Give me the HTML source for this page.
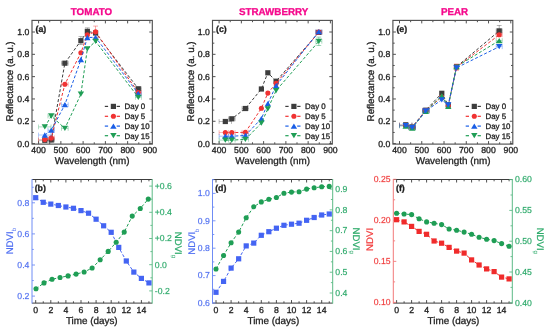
<!DOCTYPE html>
<html><head><meta charset="utf-8"><style>
html,body{margin:0;padding:0;background:#fff;width:550px;height:329px;overflow:hidden;}
svg{display:block;will-change:transform;text-rendering:geometricPrecision;filter:blur(0.3px);}
text{font-family:"Liberation Sans", sans-serif;}
</style></head><body>
<svg width="550" height="329" viewBox="0 0 550 329" font-family='"Liberation Sans", sans-serif'>
<rect width="550" height="329" fill="#ffffff"/>
<line x1="38.6" y1="144.1" x2="38.6" y2="141.1" stroke="#3c3c3c" stroke-width="0.9" />
<line x1="38.6" y1="20.4" x2="38.6" y2="23.4" stroke="#3c3c3c" stroke-width="0.9" />
<text x="38.6" y="153.3" font-size="8.7" fill="#1e1e1e" stroke="#1e1e1e" stroke-width="0.3" text-anchor="middle" font-weight="normal" >400</text>
<line x1="49.73" y1="144.1" x2="49.73" y2="142.3" stroke="#3c3c3c" stroke-width="0.9" />
<line x1="49.73" y1="20.4" x2="49.73" y2="22.2" stroke="#3c3c3c" stroke-width="0.9" />
<line x1="60.86" y1="144.1" x2="60.86" y2="141.1" stroke="#3c3c3c" stroke-width="0.9" />
<line x1="60.86" y1="20.4" x2="60.86" y2="23.4" stroke="#3c3c3c" stroke-width="0.9" />
<text x="60.86" y="153.3" font-size="8.7" fill="#1e1e1e" stroke="#1e1e1e" stroke-width="0.3" text-anchor="middle" font-weight="normal" >500</text>
<line x1="71.99" y1="144.1" x2="71.99" y2="142.3" stroke="#3c3c3c" stroke-width="0.9" />
<line x1="71.99" y1="20.4" x2="71.99" y2="22.2" stroke="#3c3c3c" stroke-width="0.9" />
<line x1="83.12" y1="144.1" x2="83.12" y2="141.1" stroke="#3c3c3c" stroke-width="0.9" />
<line x1="83.12" y1="20.4" x2="83.12" y2="23.4" stroke="#3c3c3c" stroke-width="0.9" />
<text x="83.12" y="153.3" font-size="8.7" fill="#1e1e1e" stroke="#1e1e1e" stroke-width="0.3" text-anchor="middle" font-weight="normal" >600</text>
<line x1="94.25" y1="144.1" x2="94.25" y2="142.3" stroke="#3c3c3c" stroke-width="0.9" />
<line x1="94.25" y1="20.4" x2="94.25" y2="22.2" stroke="#3c3c3c" stroke-width="0.9" />
<line x1="105.38" y1="144.1" x2="105.38" y2="141.1" stroke="#3c3c3c" stroke-width="0.9" />
<line x1="105.38" y1="20.4" x2="105.38" y2="23.4" stroke="#3c3c3c" stroke-width="0.9" />
<text x="105.38" y="153.3" font-size="8.7" fill="#1e1e1e" stroke="#1e1e1e" stroke-width="0.3" text-anchor="middle" font-weight="normal" >700</text>
<line x1="116.51" y1="144.1" x2="116.51" y2="142.3" stroke="#3c3c3c" stroke-width="0.9" />
<line x1="116.51" y1="20.4" x2="116.51" y2="22.2" stroke="#3c3c3c" stroke-width="0.9" />
<line x1="127.64" y1="144.1" x2="127.64" y2="141.1" stroke="#3c3c3c" stroke-width="0.9" />
<line x1="127.64" y1="20.4" x2="127.64" y2="23.4" stroke="#3c3c3c" stroke-width="0.9" />
<text x="127.64" y="153.3" font-size="8.7" fill="#1e1e1e" stroke="#1e1e1e" stroke-width="0.3" text-anchor="middle" font-weight="normal" >800</text>
<line x1="138.77" y1="144.1" x2="138.77" y2="142.3" stroke="#3c3c3c" stroke-width="0.9" />
<line x1="138.77" y1="20.4" x2="138.77" y2="22.2" stroke="#3c3c3c" stroke-width="0.9" />
<line x1="149.9" y1="144.1" x2="149.9" y2="141.1" stroke="#3c3c3c" stroke-width="0.9" />
<line x1="149.9" y1="20.4" x2="149.9" y2="23.4" stroke="#3c3c3c" stroke-width="0.9" />
<text x="149.9" y="153.3" font-size="8.7" fill="#1e1e1e" stroke="#1e1e1e" stroke-width="0.3" text-anchor="middle" font-weight="normal" >900</text>
<line x1="32" y1="143.6" x2="35" y2="143.6" stroke="#3c3c3c" stroke-width="0.9" />
<line x1="152.3" y1="143.6" x2="149.3" y2="143.6" stroke="#3c3c3c" stroke-width="0.9" />
<text x="29.4" y="146.7" font-size="8.7" fill="#1e1e1e" stroke="#1e1e1e" stroke-width="0.3" text-anchor="end" font-weight="normal" >0.0</text>
<line x1="32" y1="132.44" x2="33.8" y2="132.44" stroke="#3c3c3c" stroke-width="0.9" />
<line x1="152.3" y1="132.44" x2="150.5" y2="132.44" stroke="#3c3c3c" stroke-width="0.9" />
<line x1="32" y1="121.28" x2="35" y2="121.28" stroke="#3c3c3c" stroke-width="0.9" />
<line x1="152.3" y1="121.28" x2="149.3" y2="121.28" stroke="#3c3c3c" stroke-width="0.9" />
<text x="29.4" y="124.38" font-size="8.7" fill="#1e1e1e" stroke="#1e1e1e" stroke-width="0.3" text-anchor="end" font-weight="normal" >0.2</text>
<line x1="32" y1="110.12" x2="33.8" y2="110.12" stroke="#3c3c3c" stroke-width="0.9" />
<line x1="152.3" y1="110.12" x2="150.5" y2="110.12" stroke="#3c3c3c" stroke-width="0.9" />
<line x1="32" y1="98.96" x2="35" y2="98.96" stroke="#3c3c3c" stroke-width="0.9" />
<line x1="152.3" y1="98.96" x2="149.3" y2="98.96" stroke="#3c3c3c" stroke-width="0.9" />
<text x="29.4" y="102.06" font-size="8.7" fill="#1e1e1e" stroke="#1e1e1e" stroke-width="0.3" text-anchor="end" font-weight="normal" >0.4</text>
<line x1="32" y1="87.8" x2="33.8" y2="87.8" stroke="#3c3c3c" stroke-width="0.9" />
<line x1="152.3" y1="87.8" x2="150.5" y2="87.8" stroke="#3c3c3c" stroke-width="0.9" />
<line x1="32" y1="76.64" x2="35" y2="76.64" stroke="#3c3c3c" stroke-width="0.9" />
<line x1="152.3" y1="76.64" x2="149.3" y2="76.64" stroke="#3c3c3c" stroke-width="0.9" />
<text x="29.4" y="79.74" font-size="8.7" fill="#1e1e1e" stroke="#1e1e1e" stroke-width="0.3" text-anchor="end" font-weight="normal" >0.6</text>
<line x1="32" y1="65.48" x2="33.8" y2="65.48" stroke="#3c3c3c" stroke-width="0.9" />
<line x1="152.3" y1="65.48" x2="150.5" y2="65.48" stroke="#3c3c3c" stroke-width="0.9" />
<line x1="32" y1="54.32" x2="35" y2="54.32" stroke="#3c3c3c" stroke-width="0.9" />
<line x1="152.3" y1="54.32" x2="149.3" y2="54.32" stroke="#3c3c3c" stroke-width="0.9" />
<text x="29.4" y="57.42" font-size="8.7" fill="#1e1e1e" stroke="#1e1e1e" stroke-width="0.3" text-anchor="end" font-weight="normal" >0.8</text>
<line x1="32" y1="43.16" x2="33.8" y2="43.16" stroke="#3c3c3c" stroke-width="0.9" />
<line x1="152.3" y1="43.16" x2="150.5" y2="43.16" stroke="#3c3c3c" stroke-width="0.9" />
<line x1="32" y1="32" x2="35" y2="32" stroke="#3c3c3c" stroke-width="0.9" />
<line x1="152.3" y1="32" x2="149.3" y2="32" stroke="#3c3c3c" stroke-width="0.9" />
<text x="29.4" y="35.1" font-size="8.7" fill="#1e1e1e" stroke="#1e1e1e" stroke-width="0.3" text-anchor="end" font-weight="normal" >1.0</text>
<rect x="32" y="20.4" width="120.3" height="123.7" fill="none" stroke="#505050" stroke-width="1.15"/>
<text x="92.2" y="164.4" font-size="9.9" fill="#1e1e1e" stroke="#1e1e1e" stroke-width="0.3" text-anchor="middle" font-weight="normal" >Wavelength (nm)</text>
<text x="13.5" y="81.4" font-size="9.8" fill="#1e1e1e" stroke="#1e1e1e" stroke-width="0.3" text-anchor="middle" font-weight="normal" transform="rotate(-90 13.5 81.4)">Reflectance (a. u.)</text>
<text x="35.5" y="32.1" font-size="8.8" fill="#1e1e1e" stroke="#1e1e1e" stroke-width="0.3" text-anchor="start" font-weight="bold" >(a)</text>
<text x="91.5" y="15" font-size="9.8" fill="#f5088c" stroke="#f5088c" stroke-width="0.3" text-anchor="middle" font-weight="bold" >TOMATO</text>
<line x1="104.8" y1="106.4" x2="108.1" y2="106.4" stroke="#3d3d3d" stroke-width="1.2" />
<line x1="116.7" y1="106.4" x2="120" y2="106.4" stroke="#3d3d3d" stroke-width="1.2" />
<rect x="110.8" y="103.8" width="5.2" height="5.2" fill="#3d3d3d"/>
<text x="124.6" y="109.3" font-size="7.9" fill="#1e1e1e" stroke="#1e1e1e" stroke-width="0.3" text-anchor="start" font-weight="normal" >Day 0</text>
<line x1="104.8" y1="116.3" x2="108.1" y2="116.3" stroke="#f03232" stroke-width="1.2" />
<line x1="116.7" y1="116.3" x2="120" y2="116.3" stroke="#f03232" stroke-width="1.2" />
<circle cx="113.4" cy="116.3" r="2.55" fill="#f03232"/>
<text x="124.6" y="119.2" font-size="7.9" fill="#1e1e1e" stroke="#1e1e1e" stroke-width="0.3" text-anchor="start" font-weight="normal" >Day 5</text>
<line x1="104.8" y1="126.1" x2="108.1" y2="126.1" stroke="#1a5ee6" stroke-width="1.2" />
<line x1="116.7" y1="126.1" x2="120" y2="126.1" stroke="#1a5ee6" stroke-width="1.2" />
<polygon points="113.4,123.45 116.6,128.75 110.2,128.75" fill="#1a5ee6"/>
<text x="124.6" y="129" font-size="7.9" fill="#1e1e1e" stroke="#1e1e1e" stroke-width="0.3" text-anchor="start" font-weight="normal" >Day 10</text>
<line x1="104.8" y1="135.7" x2="108.1" y2="135.7" stroke="#1f9e55" stroke-width="1.2" />
<line x1="116.7" y1="135.7" x2="120" y2="135.7" stroke="#1f9e55" stroke-width="1.2" />
<polygon points="113.4,138.35 116.6,133.05 110.2,133.05" fill="#1f9e55"/>
<text x="124.6" y="138.6" font-size="7.9" fill="#1e1e1e" stroke="#1e1e1e" stroke-width="0.3" text-anchor="start" font-weight="normal" >Day 15</text>
<path d="M44.83,140.3 L51.29,140 L64.87,63.2 L80.89,40.7 L87.35,31.4 L95.59,33 L138.32,88.8" fill="none" stroke="#3d3d3d" stroke-width="1.0" stroke-dasharray="3,2"/>
<line x1="38.63" y1="140.3" x2="51.03" y2="140.3" stroke="#3d3d3d" stroke-width="0.6" opacity="0.6"/>
<line x1="38.63" y1="137.9" x2="38.63" y2="142.7" stroke="#3d3d3d" stroke-width="0.6" opacity="0.6"/>
<line x1="51.03" y1="137.9" x2="51.03" y2="142.7" stroke="#3d3d3d" stroke-width="0.6" opacity="0.6"/>
<line x1="47.99" y1="140" x2="54.59" y2="140" stroke="#3d3d3d" stroke-width="0.6" opacity="0.6"/>
<line x1="47.99" y1="137.6" x2="47.99" y2="142.4" stroke="#3d3d3d" stroke-width="0.6" opacity="0.6"/>
<line x1="54.59" y1="137.6" x2="54.59" y2="142.4" stroke="#3d3d3d" stroke-width="0.6" opacity="0.6"/>
<line x1="61.57" y1="63.2" x2="68.17" y2="63.2" stroke="#3d3d3d" stroke-width="0.6" opacity="0.6"/>
<line x1="61.57" y1="60.8" x2="61.57" y2="65.6" stroke="#3d3d3d" stroke-width="0.6" opacity="0.6"/>
<line x1="68.17" y1="60.8" x2="68.17" y2="65.6" stroke="#3d3d3d" stroke-width="0.6" opacity="0.6"/>
<line x1="80.89" y1="36.7" x2="80.89" y2="44.7" stroke="#3d3d3d" stroke-width="0.6" opacity="0.7"/>
<line x1="78.49" y1="36.7" x2="83.29" y2="36.7" stroke="#3d3d3d" stroke-width="0.6" opacity="0.7"/>
<line x1="78.49" y1="44.7" x2="83.29" y2="44.7" stroke="#3d3d3d" stroke-width="0.6" opacity="0.7"/>
<line x1="87.35" y1="27.9" x2="87.35" y2="34.9" stroke="#3d3d3d" stroke-width="0.6" opacity="0.7"/>
<line x1="84.95" y1="27.9" x2="89.75" y2="27.9" stroke="#3d3d3d" stroke-width="0.6" opacity="0.7"/>
<line x1="84.95" y1="34.9" x2="89.75" y2="34.9" stroke="#3d3d3d" stroke-width="0.6" opacity="0.7"/>
<line x1="135.32" y1="88.8" x2="141.32" y2="88.8" stroke="#3d3d3d" stroke-width="0.6" opacity="0.6"/>
<line x1="135.32" y1="86.4" x2="135.32" y2="91.2" stroke="#3d3d3d" stroke-width="0.6" opacity="0.6"/>
<line x1="141.32" y1="86.4" x2="141.32" y2="91.2" stroke="#3d3d3d" stroke-width="0.6" opacity="0.6"/>
<rect x="42.23" y="137.7" width="5.2" height="5.2" fill="#3d3d3d"/>
<rect x="48.69" y="137.4" width="5.2" height="5.2" fill="#3d3d3d"/>
<rect x="62.27" y="60.6" width="5.2" height="5.2" fill="#3d3d3d"/>
<rect x="78.29" y="38.1" width="5.2" height="5.2" fill="#3d3d3d"/>
<rect x="84.75" y="28.8" width="5.2" height="5.2" fill="#3d3d3d"/>
<rect x="92.99" y="30.4" width="5.2" height="5.2" fill="#3d3d3d"/>
<rect x="135.72" y="86.2" width="5.2" height="5.2" fill="#3d3d3d"/>
<path d="M44.83,139.6 L51.29,137.9 L64.87,84.3 L80.89,52.8 L87.35,34.8 L95.59,31.8 L138.32,92.5" fill="none" stroke="#f03232" stroke-width="1.0" stroke-dasharray="3,2"/>
<line x1="38.63" y1="139.6" x2="51.03" y2="139.6" stroke="#f03232" stroke-width="0.6" opacity="0.6"/>
<line x1="38.63" y1="137.2" x2="38.63" y2="142" stroke="#f03232" stroke-width="0.6" opacity="0.6"/>
<line x1="51.03" y1="137.2" x2="51.03" y2="142" stroke="#f03232" stroke-width="0.6" opacity="0.6"/>
<line x1="47.99" y1="137.9" x2="54.59" y2="137.9" stroke="#f03232" stroke-width="0.6" opacity="0.6"/>
<line x1="47.99" y1="135.5" x2="47.99" y2="140.3" stroke="#f03232" stroke-width="0.6" opacity="0.6"/>
<line x1="54.59" y1="135.5" x2="54.59" y2="140.3" stroke="#f03232" stroke-width="0.6" opacity="0.6"/>
<line x1="61.57" y1="84.3" x2="68.17" y2="84.3" stroke="#f03232" stroke-width="0.6" opacity="0.6"/>
<line x1="61.57" y1="81.9" x2="61.57" y2="86.7" stroke="#f03232" stroke-width="0.6" opacity="0.6"/>
<line x1="68.17" y1="81.9" x2="68.17" y2="86.7" stroke="#f03232" stroke-width="0.6" opacity="0.6"/>
<line x1="95.59" y1="26.1" x2="95.59" y2="37.5" stroke="#f03232" stroke-width="0.6" opacity="0.7"/>
<line x1="93.19" y1="26.1" x2="97.99" y2="26.1" stroke="#f03232" stroke-width="0.6" opacity="0.7"/>
<line x1="93.19" y1="37.5" x2="97.99" y2="37.5" stroke="#f03232" stroke-width="0.6" opacity="0.7"/>
<line x1="135.32" y1="92.5" x2="141.32" y2="92.5" stroke="#f03232" stroke-width="0.6" opacity="0.6"/>
<line x1="135.32" y1="90.1" x2="135.32" y2="94.9" stroke="#f03232" stroke-width="0.6" opacity="0.6"/>
<line x1="141.32" y1="90.1" x2="141.32" y2="94.9" stroke="#f03232" stroke-width="0.6" opacity="0.6"/>
<circle cx="44.83" cy="139.6" r="2.55" fill="#f03232"/>
<circle cx="51.29" cy="137.9" r="2.55" fill="#f03232"/>
<circle cx="64.87" cy="84.3" r="2.55" fill="#f03232"/>
<circle cx="80.89" cy="52.8" r="2.55" fill="#f03232"/>
<circle cx="87.35" cy="34.8" r="2.55" fill="#f03232"/>
<circle cx="95.59" cy="31.8" r="2.55" fill="#f03232"/>
<circle cx="138.32" cy="92.5" r="2.55" fill="#f03232"/>
<path d="M44.83,135 L51.29,130.2 L64.87,104.7 L80.89,59.7 L87.35,37.5 L95.59,37.3 L138.32,93.7" fill="none" stroke="#1a5ee6" stroke-width="1.0" stroke-dasharray="3,2"/>
<line x1="38.63" y1="135" x2="51.03" y2="135" stroke="#1a5ee6" stroke-width="0.6" opacity="0.6"/>
<line x1="38.63" y1="132.6" x2="38.63" y2="137.4" stroke="#1a5ee6" stroke-width="0.6" opacity="0.6"/>
<line x1="51.03" y1="132.6" x2="51.03" y2="137.4" stroke="#1a5ee6" stroke-width="0.6" opacity="0.6"/>
<line x1="47.99" y1="130.2" x2="54.59" y2="130.2" stroke="#1a5ee6" stroke-width="0.6" opacity="0.6"/>
<line x1="47.99" y1="127.8" x2="47.99" y2="132.6" stroke="#1a5ee6" stroke-width="0.6" opacity="0.6"/>
<line x1="54.59" y1="127.8" x2="54.59" y2="132.6" stroke="#1a5ee6" stroke-width="0.6" opacity="0.6"/>
<line x1="61.57" y1="104.7" x2="68.17" y2="104.7" stroke="#1a5ee6" stroke-width="0.6" opacity="0.6"/>
<line x1="61.57" y1="102.3" x2="61.57" y2="107.1" stroke="#1a5ee6" stroke-width="0.6" opacity="0.6"/>
<line x1="68.17" y1="102.3" x2="68.17" y2="107.1" stroke="#1a5ee6" stroke-width="0.6" opacity="0.6"/>
<line x1="135.32" y1="93.7" x2="141.32" y2="93.7" stroke="#1a5ee6" stroke-width="0.6" opacity="0.6"/>
<line x1="135.32" y1="91.3" x2="135.32" y2="96.1" stroke="#1a5ee6" stroke-width="0.6" opacity="0.6"/>
<line x1="141.32" y1="91.3" x2="141.32" y2="96.1" stroke="#1a5ee6" stroke-width="0.6" opacity="0.6"/>
<polygon points="44.83,132.35 48.03,137.65 41.63,137.65" fill="#1a5ee6"/>
<polygon points="51.29,127.55 54.49,132.85 48.09,132.85" fill="#1a5ee6"/>
<polygon points="64.87,102.05 68.07,107.35 61.67,107.35" fill="#1a5ee6"/>
<polygon points="80.89,57.05 84.09,62.35 77.69,62.35" fill="#1a5ee6"/>
<polygon points="87.35,34.85 90.55,40.15 84.15,40.15" fill="#1a5ee6"/>
<polygon points="95.59,34.65 98.79,39.95 92.39,39.95" fill="#1a5ee6"/>
<polygon points="138.32,91.05 141.52,96.35 135.12,96.35" fill="#1a5ee6"/>
<path d="M44.83,126.9 L51.29,116 L64.87,128.4 L80.89,94.2 L87.35,48.9 L95.59,41.3 L138.32,97.4" fill="none" stroke="#1f9e55" stroke-width="1.0" stroke-dasharray="3,2"/>
<line x1="38.63" y1="126.9" x2="51.03" y2="126.9" stroke="#1f9e55" stroke-width="0.6" opacity="0.6"/>
<line x1="38.63" y1="124.5" x2="38.63" y2="129.3" stroke="#1f9e55" stroke-width="0.6" opacity="0.6"/>
<line x1="51.03" y1="124.5" x2="51.03" y2="129.3" stroke="#1f9e55" stroke-width="0.6" opacity="0.6"/>
<line x1="47.99" y1="116" x2="54.59" y2="116" stroke="#1f9e55" stroke-width="0.6" opacity="0.6"/>
<line x1="47.99" y1="113.6" x2="47.99" y2="118.4" stroke="#1f9e55" stroke-width="0.6" opacity="0.6"/>
<line x1="54.59" y1="113.6" x2="54.59" y2="118.4" stroke="#1f9e55" stroke-width="0.6" opacity="0.6"/>
<line x1="61.57" y1="128.4" x2="68.17" y2="128.4" stroke="#1f9e55" stroke-width="0.6" opacity="0.6"/>
<line x1="61.57" y1="126" x2="61.57" y2="130.8" stroke="#1f9e55" stroke-width="0.6" opacity="0.6"/>
<line x1="68.17" y1="126" x2="68.17" y2="130.8" stroke="#1f9e55" stroke-width="0.6" opacity="0.6"/>
<line x1="135.32" y1="97.4" x2="141.32" y2="97.4" stroke="#1f9e55" stroke-width="0.6" opacity="0.6"/>
<line x1="135.32" y1="95" x2="135.32" y2="99.8" stroke="#1f9e55" stroke-width="0.6" opacity="0.6"/>
<line x1="141.32" y1="95" x2="141.32" y2="99.8" stroke="#1f9e55" stroke-width="0.6" opacity="0.6"/>
<polygon points="44.83,129.55 48.03,124.25 41.63,124.25" fill="#1f9e55"/>
<polygon points="51.29,118.65 54.49,113.35 48.09,113.35" fill="#1f9e55"/>
<polygon points="64.87,131.05 68.07,125.75 61.67,125.75" fill="#1f9e55"/>
<polygon points="80.89,96.85 84.09,91.55 77.69,91.55" fill="#1f9e55"/>
<polygon points="87.35,51.55 90.55,46.25 84.15,46.25" fill="#1f9e55"/>
<polygon points="95.59,43.95 98.79,38.65 92.39,38.65" fill="#1f9e55"/>
<polygon points="138.32,100.05 141.52,94.75 135.12,94.75" fill="#1f9e55"/>
<line x1="219.1" y1="144.1" x2="219.1" y2="141.1" stroke="#3c3c3c" stroke-width="0.9" />
<line x1="219.1" y1="20.4" x2="219.1" y2="23.4" stroke="#3c3c3c" stroke-width="0.9" />
<text x="219.1" y="153.3" font-size="8.7" fill="#1e1e1e" stroke="#1e1e1e" stroke-width="0.3" text-anchor="middle" font-weight="normal" >400</text>
<line x1="230.23" y1="144.1" x2="230.23" y2="142.3" stroke="#3c3c3c" stroke-width="0.9" />
<line x1="230.23" y1="20.4" x2="230.23" y2="22.2" stroke="#3c3c3c" stroke-width="0.9" />
<line x1="241.36" y1="144.1" x2="241.36" y2="141.1" stroke="#3c3c3c" stroke-width="0.9" />
<line x1="241.36" y1="20.4" x2="241.36" y2="23.4" stroke="#3c3c3c" stroke-width="0.9" />
<text x="241.36" y="153.3" font-size="8.7" fill="#1e1e1e" stroke="#1e1e1e" stroke-width="0.3" text-anchor="middle" font-weight="normal" >500</text>
<line x1="252.49" y1="144.1" x2="252.49" y2="142.3" stroke="#3c3c3c" stroke-width="0.9" />
<line x1="252.49" y1="20.4" x2="252.49" y2="22.2" stroke="#3c3c3c" stroke-width="0.9" />
<line x1="263.62" y1="144.1" x2="263.62" y2="141.1" stroke="#3c3c3c" stroke-width="0.9" />
<line x1="263.62" y1="20.4" x2="263.62" y2="23.4" stroke="#3c3c3c" stroke-width="0.9" />
<text x="263.62" y="153.3" font-size="8.7" fill="#1e1e1e" stroke="#1e1e1e" stroke-width="0.3" text-anchor="middle" font-weight="normal" >600</text>
<line x1="274.75" y1="144.1" x2="274.75" y2="142.3" stroke="#3c3c3c" stroke-width="0.9" />
<line x1="274.75" y1="20.4" x2="274.75" y2="22.2" stroke="#3c3c3c" stroke-width="0.9" />
<line x1="285.88" y1="144.1" x2="285.88" y2="141.1" stroke="#3c3c3c" stroke-width="0.9" />
<line x1="285.88" y1="20.4" x2="285.88" y2="23.4" stroke="#3c3c3c" stroke-width="0.9" />
<text x="285.88" y="153.3" font-size="8.7" fill="#1e1e1e" stroke="#1e1e1e" stroke-width="0.3" text-anchor="middle" font-weight="normal" >700</text>
<line x1="297.01" y1="144.1" x2="297.01" y2="142.3" stroke="#3c3c3c" stroke-width="0.9" />
<line x1="297.01" y1="20.4" x2="297.01" y2="22.2" stroke="#3c3c3c" stroke-width="0.9" />
<line x1="308.14" y1="144.1" x2="308.14" y2="141.1" stroke="#3c3c3c" stroke-width="0.9" />
<line x1="308.14" y1="20.4" x2="308.14" y2="23.4" stroke="#3c3c3c" stroke-width="0.9" />
<text x="308.14" y="153.3" font-size="8.7" fill="#1e1e1e" stroke="#1e1e1e" stroke-width="0.3" text-anchor="middle" font-weight="normal" >800</text>
<line x1="319.27" y1="144.1" x2="319.27" y2="142.3" stroke="#3c3c3c" stroke-width="0.9" />
<line x1="319.27" y1="20.4" x2="319.27" y2="22.2" stroke="#3c3c3c" stroke-width="0.9" />
<line x1="330.4" y1="144.1" x2="330.4" y2="141.1" stroke="#3c3c3c" stroke-width="0.9" />
<line x1="330.4" y1="20.4" x2="330.4" y2="23.4" stroke="#3c3c3c" stroke-width="0.9" />
<text x="330.4" y="153.3" font-size="8.7" fill="#1e1e1e" stroke="#1e1e1e" stroke-width="0.3" text-anchor="middle" font-weight="normal" >900</text>
<line x1="212.5" y1="143.6" x2="215.5" y2="143.6" stroke="#3c3c3c" stroke-width="0.9" />
<line x1="332.3" y1="143.6" x2="329.3" y2="143.6" stroke="#3c3c3c" stroke-width="0.9" />
<text x="209.9" y="146.7" font-size="8.7" fill="#1e1e1e" stroke="#1e1e1e" stroke-width="0.3" text-anchor="end" font-weight="normal" >0.0</text>
<line x1="212.5" y1="132.44" x2="214.3" y2="132.44" stroke="#3c3c3c" stroke-width="0.9" />
<line x1="332.3" y1="132.44" x2="330.5" y2="132.44" stroke="#3c3c3c" stroke-width="0.9" />
<line x1="212.5" y1="121.28" x2="215.5" y2="121.28" stroke="#3c3c3c" stroke-width="0.9" />
<line x1="332.3" y1="121.28" x2="329.3" y2="121.28" stroke="#3c3c3c" stroke-width="0.9" />
<text x="209.9" y="124.38" font-size="8.7" fill="#1e1e1e" stroke="#1e1e1e" stroke-width="0.3" text-anchor="end" font-weight="normal" >0.2</text>
<line x1="212.5" y1="110.12" x2="214.3" y2="110.12" stroke="#3c3c3c" stroke-width="0.9" />
<line x1="332.3" y1="110.12" x2="330.5" y2="110.12" stroke="#3c3c3c" stroke-width="0.9" />
<line x1="212.5" y1="98.96" x2="215.5" y2="98.96" stroke="#3c3c3c" stroke-width="0.9" />
<line x1="332.3" y1="98.96" x2="329.3" y2="98.96" stroke="#3c3c3c" stroke-width="0.9" />
<text x="209.9" y="102.06" font-size="8.7" fill="#1e1e1e" stroke="#1e1e1e" stroke-width="0.3" text-anchor="end" font-weight="normal" >0.4</text>
<line x1="212.5" y1="87.8" x2="214.3" y2="87.8" stroke="#3c3c3c" stroke-width="0.9" />
<line x1="332.3" y1="87.8" x2="330.5" y2="87.8" stroke="#3c3c3c" stroke-width="0.9" />
<line x1="212.5" y1="76.64" x2="215.5" y2="76.64" stroke="#3c3c3c" stroke-width="0.9" />
<line x1="332.3" y1="76.64" x2="329.3" y2="76.64" stroke="#3c3c3c" stroke-width="0.9" />
<text x="209.9" y="79.74" font-size="8.7" fill="#1e1e1e" stroke="#1e1e1e" stroke-width="0.3" text-anchor="end" font-weight="normal" >0.6</text>
<line x1="212.5" y1="65.48" x2="214.3" y2="65.48" stroke="#3c3c3c" stroke-width="0.9" />
<line x1="332.3" y1="65.48" x2="330.5" y2="65.48" stroke="#3c3c3c" stroke-width="0.9" />
<line x1="212.5" y1="54.32" x2="215.5" y2="54.32" stroke="#3c3c3c" stroke-width="0.9" />
<line x1="332.3" y1="54.32" x2="329.3" y2="54.32" stroke="#3c3c3c" stroke-width="0.9" />
<text x="209.9" y="57.42" font-size="8.7" fill="#1e1e1e" stroke="#1e1e1e" stroke-width="0.3" text-anchor="end" font-weight="normal" >0.8</text>
<line x1="212.5" y1="43.16" x2="214.3" y2="43.16" stroke="#3c3c3c" stroke-width="0.9" />
<line x1="332.3" y1="43.16" x2="330.5" y2="43.16" stroke="#3c3c3c" stroke-width="0.9" />
<line x1="212.5" y1="32" x2="215.5" y2="32" stroke="#3c3c3c" stroke-width="0.9" />
<line x1="332.3" y1="32" x2="329.3" y2="32" stroke="#3c3c3c" stroke-width="0.9" />
<text x="209.9" y="35.1" font-size="8.7" fill="#1e1e1e" stroke="#1e1e1e" stroke-width="0.3" text-anchor="end" font-weight="normal" >1.0</text>
<rect x="212.5" y="20.4" width="119.8" height="123.7" fill="none" stroke="#505050" stroke-width="1.15"/>
<text x="272.7" y="164.4" font-size="9.9" fill="#1e1e1e" stroke="#1e1e1e" stroke-width="0.3" text-anchor="middle" font-weight="normal" >Wavelength (nm)</text>
<text x="194.3" y="81.4" font-size="9.8" fill="#1e1e1e" stroke="#1e1e1e" stroke-width="0.3" text-anchor="middle" font-weight="normal" transform="rotate(-90 194.3 81.4)">Reflectance (a. u.)</text>
<text x="216" y="32.1" font-size="8.8" fill="#1e1e1e" stroke="#1e1e1e" stroke-width="0.3" text-anchor="start" font-weight="bold" >(c)</text>
<text x="273.6" y="15" font-size="9.8" fill="#f5088c" stroke="#f5088c" stroke-width="0.3" text-anchor="middle" font-weight="bold" >STRAWBERRY</text>
<line x1="285.3" y1="106.4" x2="288.6" y2="106.4" stroke="#3d3d3d" stroke-width="1.2" />
<line x1="297.2" y1="106.4" x2="300.5" y2="106.4" stroke="#3d3d3d" stroke-width="1.2" />
<rect x="291.3" y="103.8" width="5.2" height="5.2" fill="#3d3d3d"/>
<text x="305.1" y="109.3" font-size="7.9" fill="#1e1e1e" stroke="#1e1e1e" stroke-width="0.3" text-anchor="start" font-weight="normal" >Day 0</text>
<line x1="285.3" y1="116.3" x2="288.6" y2="116.3" stroke="#f03232" stroke-width="1.2" />
<line x1="297.2" y1="116.3" x2="300.5" y2="116.3" stroke="#f03232" stroke-width="1.2" />
<circle cx="293.9" cy="116.3" r="2.55" fill="#f03232"/>
<text x="305.1" y="119.2" font-size="7.9" fill="#1e1e1e" stroke="#1e1e1e" stroke-width="0.3" text-anchor="start" font-weight="normal" >Day 5</text>
<line x1="285.3" y1="126.1" x2="288.6" y2="126.1" stroke="#1a5ee6" stroke-width="1.2" />
<line x1="297.2" y1="126.1" x2="300.5" y2="126.1" stroke="#1a5ee6" stroke-width="1.2" />
<polygon points="293.9,123.45 297.1,128.75 290.7,128.75" fill="#1a5ee6"/>
<text x="305.1" y="129" font-size="7.9" fill="#1e1e1e" stroke="#1e1e1e" stroke-width="0.3" text-anchor="start" font-weight="normal" >Day 10</text>
<line x1="285.3" y1="135.7" x2="288.6" y2="135.7" stroke="#1f9e55" stroke-width="1.2" />
<line x1="297.2" y1="135.7" x2="300.5" y2="135.7" stroke="#1f9e55" stroke-width="1.2" />
<polygon points="293.9,138.35 297.1,133.05 290.7,133.05" fill="#1f9e55"/>
<text x="305.1" y="138.6" font-size="7.9" fill="#1e1e1e" stroke="#1e1e1e" stroke-width="0.3" text-anchor="start" font-weight="normal" >Day 15</text>
<path d="M225.33,121.5 L231.79,118.8 L245.37,108.5 L261.39,89 L267.85,72.8 L276.09,81.2 L318.82,32.4" fill="none" stroke="#3d3d3d" stroke-width="1.0" stroke-dasharray="3,2"/>
<line x1="219.13" y1="121.5" x2="231.53" y2="121.5" stroke="#3d3d3d" stroke-width="0.6" opacity="0.6"/>
<line x1="219.13" y1="119.1" x2="219.13" y2="123.9" stroke="#3d3d3d" stroke-width="0.6" opacity="0.6"/>
<line x1="231.53" y1="119.1" x2="231.53" y2="123.9" stroke="#3d3d3d" stroke-width="0.6" opacity="0.6"/>
<line x1="228.49" y1="118.8" x2="235.09" y2="118.8" stroke="#3d3d3d" stroke-width="0.6" opacity="0.6"/>
<line x1="228.49" y1="116.4" x2="228.49" y2="121.2" stroke="#3d3d3d" stroke-width="0.6" opacity="0.6"/>
<line x1="235.09" y1="116.4" x2="235.09" y2="121.2" stroke="#3d3d3d" stroke-width="0.6" opacity="0.6"/>
<line x1="242.07" y1="108.5" x2="248.67" y2="108.5" stroke="#3d3d3d" stroke-width="0.6" opacity="0.6"/>
<line x1="242.07" y1="106.1" x2="242.07" y2="110.9" stroke="#3d3d3d" stroke-width="0.6" opacity="0.6"/>
<line x1="248.67" y1="106.1" x2="248.67" y2="110.9" stroke="#3d3d3d" stroke-width="0.6" opacity="0.6"/>
<line x1="315.82" y1="32.4" x2="321.82" y2="32.4" stroke="#3d3d3d" stroke-width="0.6" opacity="0.6"/>
<line x1="315.82" y1="30" x2="315.82" y2="34.8" stroke="#3d3d3d" stroke-width="0.6" opacity="0.6"/>
<line x1="321.82" y1="30" x2="321.82" y2="34.8" stroke="#3d3d3d" stroke-width="0.6" opacity="0.6"/>
<rect x="222.73" y="118.9" width="5.2" height="5.2" fill="#3d3d3d"/>
<rect x="229.19" y="116.2" width="5.2" height="5.2" fill="#3d3d3d"/>
<rect x="242.77" y="105.9" width="5.2" height="5.2" fill="#3d3d3d"/>
<rect x="258.79" y="86.4" width="5.2" height="5.2" fill="#3d3d3d"/>
<rect x="265.25" y="70.2" width="5.2" height="5.2" fill="#3d3d3d"/>
<rect x="273.49" y="78.6" width="5.2" height="5.2" fill="#3d3d3d"/>
<rect x="316.22" y="29.8" width="5.2" height="5.2" fill="#3d3d3d"/>
<path d="M225.33,132.6 L231.79,132.6 L245.37,132.3 L261.39,108.3 L267.85,93.1 L276.09,83.4 L318.82,32.1" fill="none" stroke="#f03232" stroke-width="1.0" stroke-dasharray="3,2"/>
<line x1="219.13" y1="132.6" x2="231.53" y2="132.6" stroke="#f03232" stroke-width="0.6" opacity="0.6"/>
<line x1="219.13" y1="130.2" x2="219.13" y2="135" stroke="#f03232" stroke-width="0.6" opacity="0.6"/>
<line x1="231.53" y1="130.2" x2="231.53" y2="135" stroke="#f03232" stroke-width="0.6" opacity="0.6"/>
<line x1="228.49" y1="132.6" x2="235.09" y2="132.6" stroke="#f03232" stroke-width="0.6" opacity="0.6"/>
<line x1="228.49" y1="130.2" x2="228.49" y2="135" stroke="#f03232" stroke-width="0.6" opacity="0.6"/>
<line x1="235.09" y1="130.2" x2="235.09" y2="135" stroke="#f03232" stroke-width="0.6" opacity="0.6"/>
<line x1="242.07" y1="132.3" x2="248.67" y2="132.3" stroke="#f03232" stroke-width="0.6" opacity="0.6"/>
<line x1="242.07" y1="129.9" x2="242.07" y2="134.7" stroke="#f03232" stroke-width="0.6" opacity="0.6"/>
<line x1="248.67" y1="129.9" x2="248.67" y2="134.7" stroke="#f03232" stroke-width="0.6" opacity="0.6"/>
<line x1="315.82" y1="32.1" x2="321.82" y2="32.1" stroke="#f03232" stroke-width="0.6" opacity="0.6"/>
<line x1="315.82" y1="29.7" x2="315.82" y2="34.5" stroke="#f03232" stroke-width="0.6" opacity="0.6"/>
<line x1="321.82" y1="29.7" x2="321.82" y2="34.5" stroke="#f03232" stroke-width="0.6" opacity="0.6"/>
<circle cx="225.33" cy="132.6" r="2.55" fill="#f03232"/>
<circle cx="231.79" cy="132.6" r="2.55" fill="#f03232"/>
<circle cx="245.37" cy="132.3" r="2.55" fill="#f03232"/>
<circle cx="261.39" cy="108.3" r="2.55" fill="#f03232"/>
<circle cx="267.85" cy="93.1" r="2.55" fill="#f03232"/>
<circle cx="276.09" cy="83.4" r="2.55" fill="#f03232"/>
<circle cx="318.82" cy="32.1" r="2.55" fill="#f03232"/>
<path d="M225.33,136.2 L231.79,136.2 L245.37,135.5 L261.39,118.6 L267.85,103.6 L276.09,85.6 L318.82,31.7" fill="none" stroke="#1a5ee6" stroke-width="1.0" stroke-dasharray="3,2"/>
<line x1="219.13" y1="136.2" x2="231.53" y2="136.2" stroke="#1a5ee6" stroke-width="0.6" opacity="0.6"/>
<line x1="219.13" y1="133.8" x2="219.13" y2="138.6" stroke="#1a5ee6" stroke-width="0.6" opacity="0.6"/>
<line x1="231.53" y1="133.8" x2="231.53" y2="138.6" stroke="#1a5ee6" stroke-width="0.6" opacity="0.6"/>
<line x1="228.49" y1="136.2" x2="235.09" y2="136.2" stroke="#1a5ee6" stroke-width="0.6" opacity="0.6"/>
<line x1="228.49" y1="133.8" x2="228.49" y2="138.6" stroke="#1a5ee6" stroke-width="0.6" opacity="0.6"/>
<line x1="235.09" y1="133.8" x2="235.09" y2="138.6" stroke="#1a5ee6" stroke-width="0.6" opacity="0.6"/>
<line x1="242.07" y1="135.5" x2="248.67" y2="135.5" stroke="#1a5ee6" stroke-width="0.6" opacity="0.6"/>
<line x1="242.07" y1="133.1" x2="242.07" y2="137.9" stroke="#1a5ee6" stroke-width="0.6" opacity="0.6"/>
<line x1="248.67" y1="133.1" x2="248.67" y2="137.9" stroke="#1a5ee6" stroke-width="0.6" opacity="0.6"/>
<line x1="315.82" y1="31.7" x2="321.82" y2="31.7" stroke="#1a5ee6" stroke-width="0.6" opacity="0.6"/>
<line x1="315.82" y1="29.3" x2="315.82" y2="34.1" stroke="#1a5ee6" stroke-width="0.6" opacity="0.6"/>
<line x1="321.82" y1="29.3" x2="321.82" y2="34.1" stroke="#1a5ee6" stroke-width="0.6" opacity="0.6"/>
<polygon points="225.33,133.55 228.53,138.85 222.13,138.85" fill="#1a5ee6"/>
<polygon points="231.79,133.55 234.99,138.85 228.59,138.85" fill="#1a5ee6"/>
<polygon points="245.37,132.85 248.57,138.15 242.17,138.15" fill="#1a5ee6"/>
<polygon points="261.39,115.95 264.59,121.25 258.19,121.25" fill="#1a5ee6"/>
<polygon points="267.85,100.95 271.05,106.25 264.65,106.25" fill="#1a5ee6"/>
<polygon points="276.09,82.95 279.29,88.25 272.89,88.25" fill="#1a5ee6"/>
<polygon points="318.82,29.05 322.02,34.35 315.62,34.35" fill="#1a5ee6"/>
<path d="M225.33,140.1 L231.79,140.1 L245.37,139.4 L261.39,123.1 L267.85,108.8 L276.09,90.6 L318.82,41.3" fill="none" stroke="#1f9e55" stroke-width="1.0" stroke-dasharray="3,2"/>
<line x1="219.13" y1="140.1" x2="231.53" y2="140.1" stroke="#1f9e55" stroke-width="0.6" opacity="0.6"/>
<line x1="219.13" y1="137.7" x2="219.13" y2="142.5" stroke="#1f9e55" stroke-width="0.6" opacity="0.6"/>
<line x1="231.53" y1="137.7" x2="231.53" y2="142.5" stroke="#1f9e55" stroke-width="0.6" opacity="0.6"/>
<line x1="228.49" y1="140.1" x2="235.09" y2="140.1" stroke="#1f9e55" stroke-width="0.6" opacity="0.6"/>
<line x1="228.49" y1="137.7" x2="228.49" y2="142.5" stroke="#1f9e55" stroke-width="0.6" opacity="0.6"/>
<line x1="235.09" y1="137.7" x2="235.09" y2="142.5" stroke="#1f9e55" stroke-width="0.6" opacity="0.6"/>
<line x1="242.07" y1="139.4" x2="248.67" y2="139.4" stroke="#1f9e55" stroke-width="0.6" opacity="0.6"/>
<line x1="242.07" y1="137" x2="242.07" y2="141.8" stroke="#1f9e55" stroke-width="0.6" opacity="0.6"/>
<line x1="248.67" y1="137" x2="248.67" y2="141.8" stroke="#1f9e55" stroke-width="0.6" opacity="0.6"/>
<line x1="315.82" y1="41.3" x2="321.82" y2="41.3" stroke="#1f9e55" stroke-width="0.6" opacity="0.6"/>
<line x1="315.82" y1="38.9" x2="315.82" y2="43.7" stroke="#1f9e55" stroke-width="0.6" opacity="0.6"/>
<line x1="321.82" y1="38.9" x2="321.82" y2="43.7" stroke="#1f9e55" stroke-width="0.6" opacity="0.6"/>
<line x1="318.82" y1="37.1" x2="318.82" y2="45.5" stroke="#1f9e55" stroke-width="0.6" opacity="0.7"/>
<line x1="316.42" y1="37.1" x2="321.22" y2="37.1" stroke="#1f9e55" stroke-width="0.6" opacity="0.7"/>
<line x1="316.42" y1="45.5" x2="321.22" y2="45.5" stroke="#1f9e55" stroke-width="0.6" opacity="0.7"/>
<polygon points="225.33,142.75 228.53,137.45 222.13,137.45" fill="#1f9e55"/>
<polygon points="231.79,142.75 234.99,137.45 228.59,137.45" fill="#1f9e55"/>
<polygon points="245.37,142.05 248.57,136.75 242.17,136.75" fill="#1f9e55"/>
<polygon points="261.39,125.75 264.59,120.45 258.19,120.45" fill="#1f9e55"/>
<polygon points="267.85,111.45 271.05,106.15 264.65,106.15" fill="#1f9e55"/>
<polygon points="276.09,93.25 279.29,87.95 272.89,87.95" fill="#1f9e55"/>
<polygon points="318.82,43.95 322.02,38.65 315.62,38.65" fill="#1f9e55"/>
<line x1="399.5" y1="144.1" x2="399.5" y2="141.1" stroke="#3c3c3c" stroke-width="0.9" />
<line x1="399.5" y1="20.4" x2="399.5" y2="23.4" stroke="#3c3c3c" stroke-width="0.9" />
<text x="399.5" y="153.3" font-size="8.7" fill="#1e1e1e" stroke="#1e1e1e" stroke-width="0.3" text-anchor="middle" font-weight="normal" >400</text>
<line x1="410.63" y1="144.1" x2="410.63" y2="142.3" stroke="#3c3c3c" stroke-width="0.9" />
<line x1="410.63" y1="20.4" x2="410.63" y2="22.2" stroke="#3c3c3c" stroke-width="0.9" />
<line x1="421.76" y1="144.1" x2="421.76" y2="141.1" stroke="#3c3c3c" stroke-width="0.9" />
<line x1="421.76" y1="20.4" x2="421.76" y2="23.4" stroke="#3c3c3c" stroke-width="0.9" />
<text x="421.76" y="153.3" font-size="8.7" fill="#1e1e1e" stroke="#1e1e1e" stroke-width="0.3" text-anchor="middle" font-weight="normal" >500</text>
<line x1="432.89" y1="144.1" x2="432.89" y2="142.3" stroke="#3c3c3c" stroke-width="0.9" />
<line x1="432.89" y1="20.4" x2="432.89" y2="22.2" stroke="#3c3c3c" stroke-width="0.9" />
<line x1="444.02" y1="144.1" x2="444.02" y2="141.1" stroke="#3c3c3c" stroke-width="0.9" />
<line x1="444.02" y1="20.4" x2="444.02" y2="23.4" stroke="#3c3c3c" stroke-width="0.9" />
<text x="444.02" y="153.3" font-size="8.7" fill="#1e1e1e" stroke="#1e1e1e" stroke-width="0.3" text-anchor="middle" font-weight="normal" >600</text>
<line x1="455.15" y1="144.1" x2="455.15" y2="142.3" stroke="#3c3c3c" stroke-width="0.9" />
<line x1="455.15" y1="20.4" x2="455.15" y2="22.2" stroke="#3c3c3c" stroke-width="0.9" />
<line x1="466.28" y1="144.1" x2="466.28" y2="141.1" stroke="#3c3c3c" stroke-width="0.9" />
<line x1="466.28" y1="20.4" x2="466.28" y2="23.4" stroke="#3c3c3c" stroke-width="0.9" />
<text x="466.28" y="153.3" font-size="8.7" fill="#1e1e1e" stroke="#1e1e1e" stroke-width="0.3" text-anchor="middle" font-weight="normal" >700</text>
<line x1="477.41" y1="144.1" x2="477.41" y2="142.3" stroke="#3c3c3c" stroke-width="0.9" />
<line x1="477.41" y1="20.4" x2="477.41" y2="22.2" stroke="#3c3c3c" stroke-width="0.9" />
<line x1="488.54" y1="144.1" x2="488.54" y2="141.1" stroke="#3c3c3c" stroke-width="0.9" />
<line x1="488.54" y1="20.4" x2="488.54" y2="23.4" stroke="#3c3c3c" stroke-width="0.9" />
<text x="488.54" y="153.3" font-size="8.7" fill="#1e1e1e" stroke="#1e1e1e" stroke-width="0.3" text-anchor="middle" font-weight="normal" >800</text>
<line x1="499.67" y1="144.1" x2="499.67" y2="142.3" stroke="#3c3c3c" stroke-width="0.9" />
<line x1="499.67" y1="20.4" x2="499.67" y2="22.2" stroke="#3c3c3c" stroke-width="0.9" />
<line x1="510.8" y1="144.1" x2="510.8" y2="141.1" stroke="#3c3c3c" stroke-width="0.9" />
<line x1="510.8" y1="20.4" x2="510.8" y2="23.4" stroke="#3c3c3c" stroke-width="0.9" />
<text x="510.8" y="153.3" font-size="8.7" fill="#1e1e1e" stroke="#1e1e1e" stroke-width="0.3" text-anchor="middle" font-weight="normal" >900</text>
<line x1="392.9" y1="143.6" x2="395.9" y2="143.6" stroke="#3c3c3c" stroke-width="0.9" />
<line x1="512.8" y1="143.6" x2="509.8" y2="143.6" stroke="#3c3c3c" stroke-width="0.9" />
<text x="390.3" y="146.7" font-size="8.7" fill="#1e1e1e" stroke="#1e1e1e" stroke-width="0.3" text-anchor="end" font-weight="normal" >0.0</text>
<line x1="392.9" y1="132.44" x2="394.7" y2="132.44" stroke="#3c3c3c" stroke-width="0.9" />
<line x1="512.8" y1="132.44" x2="511" y2="132.44" stroke="#3c3c3c" stroke-width="0.9" />
<line x1="392.9" y1="121.28" x2="395.9" y2="121.28" stroke="#3c3c3c" stroke-width="0.9" />
<line x1="512.8" y1="121.28" x2="509.8" y2="121.28" stroke="#3c3c3c" stroke-width="0.9" />
<text x="390.3" y="124.38" font-size="8.7" fill="#1e1e1e" stroke="#1e1e1e" stroke-width="0.3" text-anchor="end" font-weight="normal" >0.2</text>
<line x1="392.9" y1="110.12" x2="394.7" y2="110.12" stroke="#3c3c3c" stroke-width="0.9" />
<line x1="512.8" y1="110.12" x2="511" y2="110.12" stroke="#3c3c3c" stroke-width="0.9" />
<line x1="392.9" y1="98.96" x2="395.9" y2="98.96" stroke="#3c3c3c" stroke-width="0.9" />
<line x1="512.8" y1="98.96" x2="509.8" y2="98.96" stroke="#3c3c3c" stroke-width="0.9" />
<text x="390.3" y="102.06" font-size="8.7" fill="#1e1e1e" stroke="#1e1e1e" stroke-width="0.3" text-anchor="end" font-weight="normal" >0.4</text>
<line x1="392.9" y1="87.8" x2="394.7" y2="87.8" stroke="#3c3c3c" stroke-width="0.9" />
<line x1="512.8" y1="87.8" x2="511" y2="87.8" stroke="#3c3c3c" stroke-width="0.9" />
<line x1="392.9" y1="76.64" x2="395.9" y2="76.64" stroke="#3c3c3c" stroke-width="0.9" />
<line x1="512.8" y1="76.64" x2="509.8" y2="76.64" stroke="#3c3c3c" stroke-width="0.9" />
<text x="390.3" y="79.74" font-size="8.7" fill="#1e1e1e" stroke="#1e1e1e" stroke-width="0.3" text-anchor="end" font-weight="normal" >0.6</text>
<line x1="392.9" y1="65.48" x2="394.7" y2="65.48" stroke="#3c3c3c" stroke-width="0.9" />
<line x1="512.8" y1="65.48" x2="511" y2="65.48" stroke="#3c3c3c" stroke-width="0.9" />
<line x1="392.9" y1="54.32" x2="395.9" y2="54.32" stroke="#3c3c3c" stroke-width="0.9" />
<line x1="512.8" y1="54.32" x2="509.8" y2="54.32" stroke="#3c3c3c" stroke-width="0.9" />
<text x="390.3" y="57.42" font-size="8.7" fill="#1e1e1e" stroke="#1e1e1e" stroke-width="0.3" text-anchor="end" font-weight="normal" >0.8</text>
<line x1="392.9" y1="43.16" x2="394.7" y2="43.16" stroke="#3c3c3c" stroke-width="0.9" />
<line x1="512.8" y1="43.16" x2="511" y2="43.16" stroke="#3c3c3c" stroke-width="0.9" />
<line x1="392.9" y1="32" x2="395.9" y2="32" stroke="#3c3c3c" stroke-width="0.9" />
<line x1="512.8" y1="32" x2="509.8" y2="32" stroke="#3c3c3c" stroke-width="0.9" />
<text x="390.3" y="35.1" font-size="8.7" fill="#1e1e1e" stroke="#1e1e1e" stroke-width="0.3" text-anchor="end" font-weight="normal" >1.0</text>
<rect x="392.9" y="20.4" width="119.9" height="123.7" fill="none" stroke="#505050" stroke-width="1.15"/>
<text x="453.1" y="164.4" font-size="9.9" fill="#1e1e1e" stroke="#1e1e1e" stroke-width="0.3" text-anchor="middle" font-weight="normal" >Wavelength (nm)</text>
<text x="373.9" y="81.4" font-size="9.8" fill="#1e1e1e" stroke="#1e1e1e" stroke-width="0.3" text-anchor="middle" font-weight="normal" transform="rotate(-90 373.9 81.4)">Reflectance (a. u.)</text>
<text x="396.4" y="32.1" font-size="8.8" fill="#1e1e1e" stroke="#1e1e1e" stroke-width="0.3" text-anchor="start" font-weight="bold" >(e)</text>
<text x="454.6" y="15" font-size="9.8" fill="#f5088c" stroke="#f5088c" stroke-width="0.3" text-anchor="middle" font-weight="bold" >PEAR</text>
<line x1="465.7" y1="106.4" x2="469" y2="106.4" stroke="#3d3d3d" stroke-width="1.2" />
<line x1="477.6" y1="106.4" x2="480.9" y2="106.4" stroke="#3d3d3d" stroke-width="1.2" />
<rect x="471.7" y="103.8" width="5.2" height="5.2" fill="#3d3d3d"/>
<text x="485.5" y="109.3" font-size="7.9" fill="#1e1e1e" stroke="#1e1e1e" stroke-width="0.3" text-anchor="start" font-weight="normal" >Day 0</text>
<line x1="465.7" y1="116.3" x2="469" y2="116.3" stroke="#f03232" stroke-width="1.2" />
<line x1="477.6" y1="116.3" x2="480.9" y2="116.3" stroke="#f03232" stroke-width="1.2" />
<circle cx="474.3" cy="116.3" r="2.55" fill="#f03232"/>
<text x="485.5" y="119.2" font-size="7.9" fill="#1e1e1e" stroke="#1e1e1e" stroke-width="0.3" text-anchor="start" font-weight="normal" >Day 5</text>
<line x1="465.7" y1="126.1" x2="469" y2="126.1" stroke="#1a5ee6" stroke-width="1.2" />
<line x1="477.6" y1="126.1" x2="480.9" y2="126.1" stroke="#1a5ee6" stroke-width="1.2" />
<polygon points="474.3,123.45 477.5,128.75 471.1,128.75" fill="#1a5ee6"/>
<text x="485.5" y="129" font-size="7.9" fill="#1e1e1e" stroke="#1e1e1e" stroke-width="0.3" text-anchor="start" font-weight="normal" >Day 10</text>
<line x1="465.7" y1="135.7" x2="469" y2="135.7" stroke="#1f9e55" stroke-width="1.2" />
<line x1="477.6" y1="135.7" x2="480.9" y2="135.7" stroke="#1f9e55" stroke-width="1.2" />
<polygon points="474.3,138.35 477.5,133.05 471.1,133.05" fill="#1f9e55"/>
<text x="485.5" y="138.6" font-size="7.9" fill="#1e1e1e" stroke="#1e1e1e" stroke-width="0.3" text-anchor="start" font-weight="normal" >Day 15</text>
<path d="M405.73,124.8 L412.19,127 L425.77,110.2 L441.79,93.3 L448.25,105 L456.49,66.8 L499.22,30.9" fill="none" stroke="#3d3d3d" stroke-width="1.0" stroke-dasharray="3,2"/>
<line x1="399.53" y1="124.8" x2="411.93" y2="124.8" stroke="#3d3d3d" stroke-width="0.6" opacity="0.6"/>
<line x1="399.53" y1="122.4" x2="399.53" y2="127.2" stroke="#3d3d3d" stroke-width="0.6" opacity="0.6"/>
<line x1="411.93" y1="122.4" x2="411.93" y2="127.2" stroke="#3d3d3d" stroke-width="0.6" opacity="0.6"/>
<line x1="408.89" y1="127" x2="415.49" y2="127" stroke="#3d3d3d" stroke-width="0.6" opacity="0.6"/>
<line x1="408.89" y1="124.6" x2="408.89" y2="129.4" stroke="#3d3d3d" stroke-width="0.6" opacity="0.6"/>
<line x1="415.49" y1="124.6" x2="415.49" y2="129.4" stroke="#3d3d3d" stroke-width="0.6" opacity="0.6"/>
<line x1="422.47" y1="110.2" x2="429.07" y2="110.2" stroke="#3d3d3d" stroke-width="0.6" opacity="0.6"/>
<line x1="422.47" y1="107.8" x2="422.47" y2="112.6" stroke="#3d3d3d" stroke-width="0.6" opacity="0.6"/>
<line x1="429.07" y1="107.8" x2="429.07" y2="112.6" stroke="#3d3d3d" stroke-width="0.6" opacity="0.6"/>
<line x1="496.22" y1="30.9" x2="502.22" y2="30.9" stroke="#3d3d3d" stroke-width="0.6" opacity="0.6"/>
<line x1="496.22" y1="28.5" x2="496.22" y2="33.3" stroke="#3d3d3d" stroke-width="0.6" opacity="0.6"/>
<line x1="502.22" y1="28.5" x2="502.22" y2="33.3" stroke="#3d3d3d" stroke-width="0.6" opacity="0.6"/>
<line x1="499.22" y1="25.4" x2="499.22" y2="36.4" stroke="#3d3d3d" stroke-width="0.6" opacity="0.7"/>
<line x1="496.82" y1="25.4" x2="501.62" y2="25.4" stroke="#3d3d3d" stroke-width="0.6" opacity="0.7"/>
<line x1="496.82" y1="36.4" x2="501.62" y2="36.4" stroke="#3d3d3d" stroke-width="0.6" opacity="0.7"/>
<rect x="403.13" y="122.2" width="5.2" height="5.2" fill="#3d3d3d"/>
<rect x="409.59" y="124.4" width="5.2" height="5.2" fill="#3d3d3d"/>
<rect x="423.17" y="107.6" width="5.2" height="5.2" fill="#3d3d3d"/>
<rect x="439.19" y="90.7" width="5.2" height="5.2" fill="#3d3d3d"/>
<rect x="445.65" y="102.4" width="5.2" height="5.2" fill="#3d3d3d"/>
<rect x="453.89" y="64.2" width="5.2" height="5.2" fill="#3d3d3d"/>
<rect x="496.62" y="28.3" width="5.2" height="5.2" fill="#3d3d3d"/>
<path d="M405.73,125.3 L412.19,127.4 L425.77,110.6 L441.79,97 L448.25,106 L456.49,67.2 L499.22,34.8" fill="none" stroke="#f03232" stroke-width="1.0" stroke-dasharray="3,2"/>
<line x1="399.53" y1="125.3" x2="411.93" y2="125.3" stroke="#f03232" stroke-width="0.6" opacity="0.6"/>
<line x1="399.53" y1="122.9" x2="399.53" y2="127.7" stroke="#f03232" stroke-width="0.6" opacity="0.6"/>
<line x1="411.93" y1="122.9" x2="411.93" y2="127.7" stroke="#f03232" stroke-width="0.6" opacity="0.6"/>
<line x1="408.89" y1="127.4" x2="415.49" y2="127.4" stroke="#f03232" stroke-width="0.6" opacity="0.6"/>
<line x1="408.89" y1="125" x2="408.89" y2="129.8" stroke="#f03232" stroke-width="0.6" opacity="0.6"/>
<line x1="415.49" y1="125" x2="415.49" y2="129.8" stroke="#f03232" stroke-width="0.6" opacity="0.6"/>
<line x1="422.47" y1="110.6" x2="429.07" y2="110.6" stroke="#f03232" stroke-width="0.6" opacity="0.6"/>
<line x1="422.47" y1="108.2" x2="422.47" y2="113" stroke="#f03232" stroke-width="0.6" opacity="0.6"/>
<line x1="429.07" y1="108.2" x2="429.07" y2="113" stroke="#f03232" stroke-width="0.6" opacity="0.6"/>
<line x1="456.49" y1="64" x2="456.49" y2="70.4" stroke="#f03232" stroke-width="0.6" opacity="0.7"/>
<line x1="454.09" y1="64" x2="458.89" y2="64" stroke="#f03232" stroke-width="0.6" opacity="0.7"/>
<line x1="454.09" y1="70.4" x2="458.89" y2="70.4" stroke="#f03232" stroke-width="0.6" opacity="0.7"/>
<line x1="496.22" y1="34.8" x2="502.22" y2="34.8" stroke="#f03232" stroke-width="0.6" opacity="0.6"/>
<line x1="496.22" y1="32.4" x2="496.22" y2="37.2" stroke="#f03232" stroke-width="0.6" opacity="0.6"/>
<line x1="502.22" y1="32.4" x2="502.22" y2="37.2" stroke="#f03232" stroke-width="0.6" opacity="0.6"/>
<circle cx="405.73" cy="125.3" r="2.55" fill="#f03232"/>
<circle cx="412.19" cy="127.4" r="2.55" fill="#f03232"/>
<circle cx="425.77" cy="110.6" r="2.55" fill="#f03232"/>
<circle cx="441.79" cy="97" r="2.55" fill="#f03232"/>
<circle cx="448.25" cy="106" r="2.55" fill="#f03232"/>
<circle cx="456.49" cy="67.2" r="2.55" fill="#f03232"/>
<circle cx="499.22" cy="34.8" r="2.55" fill="#f03232"/>
<path d="M405.73,126 L412.19,128 L425.77,111.4 L441.79,95.8 L448.25,106.4 L456.49,66.6 L499.22,40.6" fill="none" stroke="#1f9e55" stroke-width="1.0" stroke-dasharray="3,2"/>
<line x1="399.53" y1="126" x2="411.93" y2="126" stroke="#1f9e55" stroke-width="0.6" opacity="0.6"/>
<line x1="399.53" y1="123.6" x2="399.53" y2="128.4" stroke="#1f9e55" stroke-width="0.6" opacity="0.6"/>
<line x1="411.93" y1="123.6" x2="411.93" y2="128.4" stroke="#1f9e55" stroke-width="0.6" opacity="0.6"/>
<line x1="408.89" y1="128" x2="415.49" y2="128" stroke="#1f9e55" stroke-width="0.6" opacity="0.6"/>
<line x1="408.89" y1="125.6" x2="408.89" y2="130.4" stroke="#1f9e55" stroke-width="0.6" opacity="0.6"/>
<line x1="415.49" y1="125.6" x2="415.49" y2="130.4" stroke="#1f9e55" stroke-width="0.6" opacity="0.6"/>
<line x1="422.47" y1="111.4" x2="429.07" y2="111.4" stroke="#1f9e55" stroke-width="0.6" opacity="0.6"/>
<line x1="422.47" y1="109" x2="422.47" y2="113.8" stroke="#1f9e55" stroke-width="0.6" opacity="0.6"/>
<line x1="429.07" y1="109" x2="429.07" y2="113.8" stroke="#1f9e55" stroke-width="0.6" opacity="0.6"/>
<line x1="496.22" y1="40.6" x2="502.22" y2="40.6" stroke="#1f9e55" stroke-width="0.6" opacity="0.6"/>
<line x1="496.22" y1="38.2" x2="496.22" y2="43" stroke="#1f9e55" stroke-width="0.6" opacity="0.6"/>
<line x1="502.22" y1="38.2" x2="502.22" y2="43" stroke="#1f9e55" stroke-width="0.6" opacity="0.6"/>
<polygon points="405.73,123.35 408.93,128.65 402.53,128.65" fill="#1f9e55"/>
<polygon points="412.19,125.35 415.39,130.65 408.99,130.65" fill="#1f9e55"/>
<polygon points="425.77,108.75 428.97,114.05 422.57,114.05" fill="#1f9e55"/>
<polygon points="441.79,93.15 444.99,98.45 438.59,98.45" fill="#1f9e55"/>
<polygon points="448.25,103.75 451.45,109.05 445.05,109.05" fill="#1f9e55"/>
<polygon points="456.49,63.95 459.69,69.25 453.29,69.25" fill="#1f9e55"/>
<polygon points="499.22,37.95 502.42,43.25 496.02,43.25" fill="#1f9e55"/>
<path d="M405.73,125.6 L412.19,127.6 L425.77,111 L441.79,99.8 L448.25,105 L456.49,67.8 L499.22,46.7" fill="none" stroke="#1a5ee6" stroke-width="1.0" stroke-dasharray="3,2"/>
<line x1="399.53" y1="125.6" x2="411.93" y2="125.6" stroke="#1a5ee6" stroke-width="0.6" opacity="0.6"/>
<line x1="399.53" y1="123.2" x2="399.53" y2="128" stroke="#1a5ee6" stroke-width="0.6" opacity="0.6"/>
<line x1="411.93" y1="123.2" x2="411.93" y2="128" stroke="#1a5ee6" stroke-width="0.6" opacity="0.6"/>
<line x1="408.89" y1="127.6" x2="415.49" y2="127.6" stroke="#1a5ee6" stroke-width="0.6" opacity="0.6"/>
<line x1="408.89" y1="125.2" x2="408.89" y2="130" stroke="#1a5ee6" stroke-width="0.6" opacity="0.6"/>
<line x1="415.49" y1="125.2" x2="415.49" y2="130" stroke="#1a5ee6" stroke-width="0.6" opacity="0.6"/>
<line x1="422.47" y1="111" x2="429.07" y2="111" stroke="#1a5ee6" stroke-width="0.6" opacity="0.6"/>
<line x1="422.47" y1="108.6" x2="422.47" y2="113.4" stroke="#1a5ee6" stroke-width="0.6" opacity="0.6"/>
<line x1="429.07" y1="108.6" x2="429.07" y2="113.4" stroke="#1a5ee6" stroke-width="0.6" opacity="0.6"/>
<line x1="496.22" y1="46.7" x2="502.22" y2="46.7" stroke="#1a5ee6" stroke-width="0.6" opacity="0.6"/>
<line x1="496.22" y1="44.3" x2="496.22" y2="49.1" stroke="#1a5ee6" stroke-width="0.6" opacity="0.6"/>
<line x1="502.22" y1="44.3" x2="502.22" y2="49.1" stroke="#1a5ee6" stroke-width="0.6" opacity="0.6"/>
<polygon points="405.73,128.25 408.93,122.95 402.53,122.95" fill="#1a5ee6"/>
<polygon points="412.19,130.25 415.39,124.95 408.99,124.95" fill="#1a5ee6"/>
<polygon points="425.77,113.65 428.97,108.35 422.57,108.35" fill="#1a5ee6"/>
<polygon points="441.79,102.45 444.99,97.15 438.59,97.15" fill="#1a5ee6"/>
<polygon points="448.25,107.65 451.45,102.35 445.05,102.35" fill="#1a5ee6"/>
<polygon points="456.49,70.45 459.69,65.15 453.29,65.15" fill="#1a5ee6"/>
<polygon points="499.22,49.35 502.42,44.05 496.02,44.05" fill="#1a5ee6"/>
<line x1="35.7" y1="303.1" x2="35.7" y2="300.1" stroke="#3c3c3c" stroke-width="0.9" />
<line x1="35.7" y1="179.5" x2="35.7" y2="182.5" stroke="#3c3c3c" stroke-width="0.9" />
<text x="35.7" y="312.6" font-size="8.7" fill="#1e1e1e" stroke="#1e1e1e" stroke-width="0.3" text-anchor="middle" font-weight="normal" >0</text>
<line x1="43.25" y1="303.1" x2="43.25" y2="301.3" stroke="#3c3c3c" stroke-width="0.9" />
<line x1="43.25" y1="179.5" x2="43.25" y2="181.3" stroke="#3c3c3c" stroke-width="0.9" />
<line x1="50.8" y1="303.1" x2="50.8" y2="300.1" stroke="#3c3c3c" stroke-width="0.9" />
<line x1="50.8" y1="179.5" x2="50.8" y2="182.5" stroke="#3c3c3c" stroke-width="0.9" />
<text x="50.8" y="312.6" font-size="8.7" fill="#1e1e1e" stroke="#1e1e1e" stroke-width="0.3" text-anchor="middle" font-weight="normal" >2</text>
<line x1="58.35" y1="303.1" x2="58.35" y2="301.3" stroke="#3c3c3c" stroke-width="0.9" />
<line x1="58.35" y1="179.5" x2="58.35" y2="181.3" stroke="#3c3c3c" stroke-width="0.9" />
<line x1="65.9" y1="303.1" x2="65.9" y2="300.1" stroke="#3c3c3c" stroke-width="0.9" />
<line x1="65.9" y1="179.5" x2="65.9" y2="182.5" stroke="#3c3c3c" stroke-width="0.9" />
<text x="65.9" y="312.6" font-size="8.7" fill="#1e1e1e" stroke="#1e1e1e" stroke-width="0.3" text-anchor="middle" font-weight="normal" >4</text>
<line x1="73.45" y1="303.1" x2="73.45" y2="301.3" stroke="#3c3c3c" stroke-width="0.9" />
<line x1="73.45" y1="179.5" x2="73.45" y2="181.3" stroke="#3c3c3c" stroke-width="0.9" />
<line x1="81" y1="303.1" x2="81" y2="300.1" stroke="#3c3c3c" stroke-width="0.9" />
<line x1="81" y1="179.5" x2="81" y2="182.5" stroke="#3c3c3c" stroke-width="0.9" />
<text x="81" y="312.6" font-size="8.7" fill="#1e1e1e" stroke="#1e1e1e" stroke-width="0.3" text-anchor="middle" font-weight="normal" >6</text>
<line x1="88.55" y1="303.1" x2="88.55" y2="301.3" stroke="#3c3c3c" stroke-width="0.9" />
<line x1="88.55" y1="179.5" x2="88.55" y2="181.3" stroke="#3c3c3c" stroke-width="0.9" />
<line x1="96.1" y1="303.1" x2="96.1" y2="300.1" stroke="#3c3c3c" stroke-width="0.9" />
<line x1="96.1" y1="179.5" x2="96.1" y2="182.5" stroke="#3c3c3c" stroke-width="0.9" />
<text x="96.1" y="312.6" font-size="8.7" fill="#1e1e1e" stroke="#1e1e1e" stroke-width="0.3" text-anchor="middle" font-weight="normal" >8</text>
<line x1="103.65" y1="303.1" x2="103.65" y2="301.3" stroke="#3c3c3c" stroke-width="0.9" />
<line x1="103.65" y1="179.5" x2="103.65" y2="181.3" stroke="#3c3c3c" stroke-width="0.9" />
<line x1="111.2" y1="303.1" x2="111.2" y2="300.1" stroke="#3c3c3c" stroke-width="0.9" />
<line x1="111.2" y1="179.5" x2="111.2" y2="182.5" stroke="#3c3c3c" stroke-width="0.9" />
<text x="111.2" y="312.6" font-size="8.7" fill="#1e1e1e" stroke="#1e1e1e" stroke-width="0.3" text-anchor="middle" font-weight="normal" >10</text>
<line x1="118.75" y1="303.1" x2="118.75" y2="301.3" stroke="#3c3c3c" stroke-width="0.9" />
<line x1="118.75" y1="179.5" x2="118.75" y2="181.3" stroke="#3c3c3c" stroke-width="0.9" />
<line x1="126.3" y1="303.1" x2="126.3" y2="300.1" stroke="#3c3c3c" stroke-width="0.9" />
<line x1="126.3" y1="179.5" x2="126.3" y2="182.5" stroke="#3c3c3c" stroke-width="0.9" />
<text x="126.3" y="312.6" font-size="8.7" fill="#1e1e1e" stroke="#1e1e1e" stroke-width="0.3" text-anchor="middle" font-weight="normal" >12</text>
<line x1="133.85" y1="303.1" x2="133.85" y2="301.3" stroke="#3c3c3c" stroke-width="0.9" />
<line x1="133.85" y1="179.5" x2="133.85" y2="181.3" stroke="#3c3c3c" stroke-width="0.9" />
<line x1="141.4" y1="303.1" x2="141.4" y2="300.1" stroke="#3c3c3c" stroke-width="0.9" />
<line x1="141.4" y1="179.5" x2="141.4" y2="182.5" stroke="#3c3c3c" stroke-width="0.9" />
<text x="141.4" y="312.6" font-size="8.7" fill="#1e1e1e" stroke="#1e1e1e" stroke-width="0.3" text-anchor="middle" font-weight="normal" >14</text>
<line x1="148.95" y1="303.1" x2="148.95" y2="301.3" stroke="#3c3c3c" stroke-width="0.9" />
<line x1="148.95" y1="179.5" x2="148.95" y2="181.3" stroke="#3c3c3c" stroke-width="0.9" />
<line x1="32" y1="179.5" x2="152.2" y2="179.5" stroke="#3c3c3c" stroke-width="1" />
<line x1="32" y1="303.1" x2="152.2" y2="303.1" stroke="#3c3c3c" stroke-width="1" />
<line x1="32" y1="179" x2="32" y2="303.6" stroke="#6f8cf5" stroke-width="1" />
<line x1="32" y1="296.1" x2="35" y2="296.1" stroke="#6f8cf5" stroke-width="0.9" />
<line x1="32" y1="265" x2="35" y2="265" stroke="#6f8cf5" stroke-width="0.9" />
<line x1="32" y1="233.9" x2="35" y2="233.9" stroke="#6f8cf5" stroke-width="0.9" />
<line x1="32" y1="202.8" x2="35" y2="202.8" stroke="#6f8cf5" stroke-width="0.9" />
<line x1="32" y1="280.55" x2="33.8" y2="280.55" stroke="#6f8cf5" stroke-width="0.9" />
<line x1="32" y1="249.45" x2="33.8" y2="249.45" stroke="#6f8cf5" stroke-width="0.9" />
<line x1="32" y1="218.35" x2="33.8" y2="218.35" stroke="#6f8cf5" stroke-width="0.9" />
<line x1="32" y1="187.25" x2="33.8" y2="187.25" stroke="#6f8cf5" stroke-width="0.9" />
<text x="29.4" y="298.8" font-size="8.7" fill="#4f6ff2" stroke="#4f6ff2" stroke-width="0.3" text-anchor="end" font-weight="normal" stroke-opacity="0.5">0.2</text>
<text x="29.4" y="267.7" font-size="8.7" fill="#4f6ff2" stroke="#4f6ff2" stroke-width="0.3" text-anchor="end" font-weight="normal" stroke-opacity="0.5">0.4</text>
<text x="29.4" y="236.6" font-size="8.7" fill="#4f6ff2" stroke="#4f6ff2" stroke-width="0.3" text-anchor="end" font-weight="normal" stroke-opacity="0.5">0.6</text>
<text x="29.4" y="205.5" font-size="8.7" fill="#4f6ff2" stroke="#4f6ff2" stroke-width="0.3" text-anchor="end" font-weight="normal" stroke-opacity="0.5">0.8</text>
<line x1="152.2" y1="179" x2="152.2" y2="303.6" stroke="#5cba86" stroke-width="1" />
<line x1="152.2" y1="290.9" x2="149.2" y2="290.9" stroke="#5cba86" stroke-width="0.9" />
<line x1="152.2" y1="264.7" x2="149.2" y2="264.7" stroke="#5cba86" stroke-width="0.9" />
<line x1="152.2" y1="238.5" x2="149.2" y2="238.5" stroke="#5cba86" stroke-width="0.9" />
<line x1="152.2" y1="212.3" x2="149.2" y2="212.3" stroke="#5cba86" stroke-width="0.9" />
<line x1="152.2" y1="186.1" x2="149.2" y2="186.1" stroke="#5cba86" stroke-width="0.9" />
<line x1="152.2" y1="277.8" x2="150.4" y2="277.8" stroke="#5cba86" stroke-width="0.9" />
<line x1="152.2" y1="251.6" x2="150.4" y2="251.6" stroke="#5cba86" stroke-width="0.9" />
<line x1="152.2" y1="225.4" x2="150.4" y2="225.4" stroke="#5cba86" stroke-width="0.9" />
<line x1="152.2" y1="199.2" x2="150.4" y2="199.2" stroke="#5cba86" stroke-width="0.9" />
<text x="154.8" y="293.7" font-size="8.7" fill="#2caa6a" stroke="#2caa6a" stroke-width="0.3" text-anchor="start" font-weight="normal" stroke-opacity="0.5">-0.2</text>
<text x="154.8" y="267.5" font-size="8.7" fill="#2caa6a" stroke="#2caa6a" stroke-width="0.3" text-anchor="start" font-weight="normal" stroke-opacity="0.5">0.0</text>
<text x="154.8" y="241.3" font-size="8.7" fill="#2caa6a" stroke="#2caa6a" stroke-width="0.3" text-anchor="start" font-weight="normal" stroke-opacity="0.5">+0.2</text>
<text x="154.8" y="215.1" font-size="8.7" fill="#2caa6a" stroke="#2caa6a" stroke-width="0.3" text-anchor="start" font-weight="normal" stroke-opacity="0.5">+0.4</text>
<text x="154.8" y="188.9" font-size="8.7" fill="#2caa6a" stroke="#2caa6a" stroke-width="0.3" text-anchor="start" font-weight="normal" stroke-opacity="0.5">+0.6</text>
<text x="91.8" y="323.6" font-size="9.9" fill="#1e1e1e" stroke="#1e1e1e" stroke-width="0.3" text-anchor="middle" font-weight="normal" >Time (days)</text>
<text x="34.7" y="190.5" font-size="8.8" fill="#1e1e1e" stroke="#1e1e1e" stroke-width="0.3" text-anchor="start" font-weight="bold" >(b)</text>
<path d="M35.7,197.7 L43.25,202.3 L50.8,204.1 L58.35,205.5 L65.9,207 L73.45,208.3 L81,210.6 L88.55,213.2 L96.1,219.2 L103.65,225.8 L111.2,232.3 L118.75,247.4 L126.3,261 L133.85,272.1 L141.4,278.4 L148.95,282.9" fill="none" stroke="#4464f3" stroke-width="1.0" stroke-dasharray="3,2"/>
<rect x="33.1" y="195.1" width="5.2" height="5.2" fill="#4464f3"/>
<rect x="40.65" y="199.7" width="5.2" height="5.2" fill="#4464f3"/>
<rect x="48.2" y="201.5" width="5.2" height="5.2" fill="#4464f3"/>
<rect x="55.75" y="202.9" width="5.2" height="5.2" fill="#4464f3"/>
<rect x="63.3" y="204.4" width="5.2" height="5.2" fill="#4464f3"/>
<rect x="70.85" y="205.7" width="5.2" height="5.2" fill="#4464f3"/>
<rect x="78.4" y="208" width="5.2" height="5.2" fill="#4464f3"/>
<rect x="85.95" y="210.6" width="5.2" height="5.2" fill="#4464f3"/>
<rect x="93.5" y="216.6" width="5.2" height="5.2" fill="#4464f3"/>
<rect x="101.05" y="223.2" width="5.2" height="5.2" fill="#4464f3"/>
<rect x="108.6" y="229.7" width="5.2" height="5.2" fill="#4464f3"/>
<rect x="116.15" y="244.8" width="5.2" height="5.2" fill="#4464f3"/>
<rect x="123.7" y="258.4" width="5.2" height="5.2" fill="#4464f3"/>
<rect x="131.25" y="269.5" width="5.2" height="5.2" fill="#4464f3"/>
<rect x="138.8" y="275.8" width="5.2" height="5.2" fill="#4464f3"/>
<rect x="146.35" y="280.3" width="5.2" height="5.2" fill="#4464f3"/>
<path d="M36,288.8 L44.02,282.9 L52.04,279.3 L60.06,277.5 L68.08,275.9 L76.1,274.1 L84.12,272 L92.14,268 L100.16,259.8 L108.18,251.4 L116.2,242.3 L124.22,232.1 L132.24,216.1 L140.26,208.5 L148.28,199.1" fill="none" stroke="#1f9e55" stroke-width="1.0" stroke-dasharray="3,2"/>
<circle cx="36" cy="288.8" r="2.55" fill="#1f9e55"/>
<circle cx="44.02" cy="282.9" r="2.55" fill="#1f9e55"/>
<circle cx="52.04" cy="279.3" r="2.55" fill="#1f9e55"/>
<circle cx="60.06" cy="277.5" r="2.55" fill="#1f9e55"/>
<circle cx="68.08" cy="275.9" r="2.55" fill="#1f9e55"/>
<circle cx="76.1" cy="274.1" r="2.55" fill="#1f9e55"/>
<circle cx="84.12" cy="272" r="2.55" fill="#1f9e55"/>
<circle cx="92.14" cy="268" r="2.55" fill="#1f9e55"/>
<circle cx="100.16" cy="259.8" r="2.55" fill="#1f9e55"/>
<circle cx="108.18" cy="251.4" r="2.55" fill="#1f9e55"/>
<circle cx="116.2" cy="242.3" r="2.55" fill="#1f9e55"/>
<circle cx="124.22" cy="232.1" r="2.55" fill="#1f9e55"/>
<circle cx="132.24" cy="216.1" r="2.55" fill="#1f9e55"/>
<circle cx="140.26" cy="208.5" r="2.55" fill="#1f9e55"/>
<circle cx="148.28" cy="199.1" r="2.55" fill="#1f9e55"/>
<line x1="216" y1="303.1" x2="216" y2="300.1" stroke="#3c3c3c" stroke-width="0.9" />
<line x1="216" y1="179.5" x2="216" y2="182.5" stroke="#3c3c3c" stroke-width="0.9" />
<text x="216" y="312.6" font-size="8.7" fill="#1e1e1e" stroke="#1e1e1e" stroke-width="0.3" text-anchor="middle" font-weight="normal" >0</text>
<line x1="223.55" y1="303.1" x2="223.55" y2="301.3" stroke="#3c3c3c" stroke-width="0.9" />
<line x1="223.55" y1="179.5" x2="223.55" y2="181.3" stroke="#3c3c3c" stroke-width="0.9" />
<line x1="231.1" y1="303.1" x2="231.1" y2="300.1" stroke="#3c3c3c" stroke-width="0.9" />
<line x1="231.1" y1="179.5" x2="231.1" y2="182.5" stroke="#3c3c3c" stroke-width="0.9" />
<text x="231.1" y="312.6" font-size="8.7" fill="#1e1e1e" stroke="#1e1e1e" stroke-width="0.3" text-anchor="middle" font-weight="normal" >2</text>
<line x1="238.65" y1="303.1" x2="238.65" y2="301.3" stroke="#3c3c3c" stroke-width="0.9" />
<line x1="238.65" y1="179.5" x2="238.65" y2="181.3" stroke="#3c3c3c" stroke-width="0.9" />
<line x1="246.2" y1="303.1" x2="246.2" y2="300.1" stroke="#3c3c3c" stroke-width="0.9" />
<line x1="246.2" y1="179.5" x2="246.2" y2="182.5" stroke="#3c3c3c" stroke-width="0.9" />
<text x="246.2" y="312.6" font-size="8.7" fill="#1e1e1e" stroke="#1e1e1e" stroke-width="0.3" text-anchor="middle" font-weight="normal" >4</text>
<line x1="253.75" y1="303.1" x2="253.75" y2="301.3" stroke="#3c3c3c" stroke-width="0.9" />
<line x1="253.75" y1="179.5" x2="253.75" y2="181.3" stroke="#3c3c3c" stroke-width="0.9" />
<line x1="261.3" y1="303.1" x2="261.3" y2="300.1" stroke="#3c3c3c" stroke-width="0.9" />
<line x1="261.3" y1="179.5" x2="261.3" y2="182.5" stroke="#3c3c3c" stroke-width="0.9" />
<text x="261.3" y="312.6" font-size="8.7" fill="#1e1e1e" stroke="#1e1e1e" stroke-width="0.3" text-anchor="middle" font-weight="normal" >6</text>
<line x1="268.85" y1="303.1" x2="268.85" y2="301.3" stroke="#3c3c3c" stroke-width="0.9" />
<line x1="268.85" y1="179.5" x2="268.85" y2="181.3" stroke="#3c3c3c" stroke-width="0.9" />
<line x1="276.4" y1="303.1" x2="276.4" y2="300.1" stroke="#3c3c3c" stroke-width="0.9" />
<line x1="276.4" y1="179.5" x2="276.4" y2="182.5" stroke="#3c3c3c" stroke-width="0.9" />
<text x="276.4" y="312.6" font-size="8.7" fill="#1e1e1e" stroke="#1e1e1e" stroke-width="0.3" text-anchor="middle" font-weight="normal" >8</text>
<line x1="283.95" y1="303.1" x2="283.95" y2="301.3" stroke="#3c3c3c" stroke-width="0.9" />
<line x1="283.95" y1="179.5" x2="283.95" y2="181.3" stroke="#3c3c3c" stroke-width="0.9" />
<line x1="291.5" y1="303.1" x2="291.5" y2="300.1" stroke="#3c3c3c" stroke-width="0.9" />
<line x1="291.5" y1="179.5" x2="291.5" y2="182.5" stroke="#3c3c3c" stroke-width="0.9" />
<text x="291.5" y="312.6" font-size="8.7" fill="#1e1e1e" stroke="#1e1e1e" stroke-width="0.3" text-anchor="middle" font-weight="normal" >10</text>
<line x1="299.05" y1="303.1" x2="299.05" y2="301.3" stroke="#3c3c3c" stroke-width="0.9" />
<line x1="299.05" y1="179.5" x2="299.05" y2="181.3" stroke="#3c3c3c" stroke-width="0.9" />
<line x1="306.6" y1="303.1" x2="306.6" y2="300.1" stroke="#3c3c3c" stroke-width="0.9" />
<line x1="306.6" y1="179.5" x2="306.6" y2="182.5" stroke="#3c3c3c" stroke-width="0.9" />
<text x="306.6" y="312.6" font-size="8.7" fill="#1e1e1e" stroke="#1e1e1e" stroke-width="0.3" text-anchor="middle" font-weight="normal" >12</text>
<line x1="314.15" y1="303.1" x2="314.15" y2="301.3" stroke="#3c3c3c" stroke-width="0.9" />
<line x1="314.15" y1="179.5" x2="314.15" y2="181.3" stroke="#3c3c3c" stroke-width="0.9" />
<line x1="321.7" y1="303.1" x2="321.7" y2="300.1" stroke="#3c3c3c" stroke-width="0.9" />
<line x1="321.7" y1="179.5" x2="321.7" y2="182.5" stroke="#3c3c3c" stroke-width="0.9" />
<text x="321.7" y="312.6" font-size="8.7" fill="#1e1e1e" stroke="#1e1e1e" stroke-width="0.3" text-anchor="middle" font-weight="normal" >14</text>
<line x1="329.25" y1="303.1" x2="329.25" y2="301.3" stroke="#3c3c3c" stroke-width="0.9" />
<line x1="329.25" y1="179.5" x2="329.25" y2="181.3" stroke="#3c3c3c" stroke-width="0.9" />
<line x1="212.5" y1="179.5" x2="332.7" y2="179.5" stroke="#3c3c3c" stroke-width="1" />
<line x1="212.5" y1="303.1" x2="332.7" y2="303.1" stroke="#3c3c3c" stroke-width="1" />
<line x1="212.5" y1="179" x2="212.5" y2="303.6" stroke="#6f8cf5" stroke-width="1" />
<line x1="212.5" y1="303" x2="215.5" y2="303" stroke="#6f8cf5" stroke-width="0.9" />
<line x1="212.5" y1="275.6" x2="215.5" y2="275.6" stroke="#6f8cf5" stroke-width="0.9" />
<line x1="212.5" y1="248.2" x2="215.5" y2="248.2" stroke="#6f8cf5" stroke-width="0.9" />
<line x1="212.5" y1="220.8" x2="215.5" y2="220.8" stroke="#6f8cf5" stroke-width="0.9" />
<line x1="212.5" y1="193.4" x2="215.5" y2="193.4" stroke="#6f8cf5" stroke-width="0.9" />
<line x1="212.5" y1="289.3" x2="214.3" y2="289.3" stroke="#6f8cf5" stroke-width="0.9" />
<line x1="212.5" y1="261.9" x2="214.3" y2="261.9" stroke="#6f8cf5" stroke-width="0.9" />
<line x1="212.5" y1="234.5" x2="214.3" y2="234.5" stroke="#6f8cf5" stroke-width="0.9" />
<line x1="212.5" y1="207.1" x2="214.3" y2="207.1" stroke="#6f8cf5" stroke-width="0.9" />
<line x1="212.5" y1="179.7" x2="214.3" y2="179.7" stroke="#6f8cf5" stroke-width="0.9" />
<text x="209.9" y="305.7" font-size="8.7" fill="#4f6ff2" stroke="#4f6ff2" stroke-width="0.3" text-anchor="end" font-weight="normal" stroke-opacity="0.5">0.6</text>
<text x="209.9" y="278.3" font-size="8.7" fill="#4f6ff2" stroke="#4f6ff2" stroke-width="0.3" text-anchor="end" font-weight="normal" stroke-opacity="0.5">0.7</text>
<text x="209.9" y="250.9" font-size="8.7" fill="#4f6ff2" stroke="#4f6ff2" stroke-width="0.3" text-anchor="end" font-weight="normal" stroke-opacity="0.5">0.8</text>
<text x="209.9" y="223.5" font-size="8.7" fill="#4f6ff2" stroke="#4f6ff2" stroke-width="0.3" text-anchor="end" font-weight="normal" stroke-opacity="0.5">0.9</text>
<text x="209.9" y="196.1" font-size="8.7" fill="#4f6ff2" stroke="#4f6ff2" stroke-width="0.3" text-anchor="end" font-weight="normal" stroke-opacity="0.5">1.0</text>
<line x1="332.7" y1="179" x2="332.7" y2="303.6" stroke="#5cba86" stroke-width="1" />
<line x1="332.7" y1="293" x2="329.7" y2="293" stroke="#5cba86" stroke-width="0.9" />
<line x1="332.7" y1="272.22" x2="329.7" y2="272.22" stroke="#5cba86" stroke-width="0.9" />
<line x1="332.7" y1="251.44" x2="329.7" y2="251.44" stroke="#5cba86" stroke-width="0.9" />
<line x1="332.7" y1="230.66" x2="329.7" y2="230.66" stroke="#5cba86" stroke-width="0.9" />
<line x1="332.7" y1="209.88" x2="329.7" y2="209.88" stroke="#5cba86" stroke-width="0.9" />
<line x1="332.7" y1="189.1" x2="329.7" y2="189.1" stroke="#5cba86" stroke-width="0.9" />
<line x1="332.7" y1="282.61" x2="330.9" y2="282.61" stroke="#5cba86" stroke-width="0.9" />
<line x1="332.7" y1="261.83" x2="330.9" y2="261.83" stroke="#5cba86" stroke-width="0.9" />
<line x1="332.7" y1="241.05" x2="330.9" y2="241.05" stroke="#5cba86" stroke-width="0.9" />
<line x1="332.7" y1="220.27" x2="330.9" y2="220.27" stroke="#5cba86" stroke-width="0.9" />
<line x1="332.7" y1="199.49" x2="330.9" y2="199.49" stroke="#5cba86" stroke-width="0.9" />
<text x="335.3" y="295.8" font-size="8.7" fill="#2caa6a" stroke="#2caa6a" stroke-width="0.3" text-anchor="start" font-weight="normal" stroke-opacity="0.5">0.4</text>
<text x="335.3" y="275.02" font-size="8.7" fill="#2caa6a" stroke="#2caa6a" stroke-width="0.3" text-anchor="start" font-weight="normal" stroke-opacity="0.5">0.5</text>
<text x="335.3" y="254.24" font-size="8.7" fill="#2caa6a" stroke="#2caa6a" stroke-width="0.3" text-anchor="start" font-weight="normal" stroke-opacity="0.5">0.6</text>
<text x="335.3" y="233.46" font-size="8.7" fill="#2caa6a" stroke="#2caa6a" stroke-width="0.3" text-anchor="start" font-weight="normal" stroke-opacity="0.5">0.7</text>
<text x="335.3" y="212.68" font-size="8.7" fill="#2caa6a" stroke="#2caa6a" stroke-width="0.3" text-anchor="start" font-weight="normal" stroke-opacity="0.5">0.8</text>
<text x="335.3" y="191.9" font-size="8.7" fill="#2caa6a" stroke="#2caa6a" stroke-width="0.3" text-anchor="start" font-weight="normal" stroke-opacity="0.5">0.9</text>
<text x="273.4" y="323.6" font-size="9.9" fill="#1e1e1e" stroke="#1e1e1e" stroke-width="0.3" text-anchor="middle" font-weight="normal" >Time (days)</text>
<text x="215.2" y="190.5" font-size="8.8" fill="#1e1e1e" stroke="#1e1e1e" stroke-width="0.3" text-anchor="start" font-weight="bold" >(d)</text>
<path d="M216,292.3 L223.55,281.4 L231.1,268.1 L238.65,258.8 L246.2,245.9 L253.75,243.1 L261.3,235.3 L268.85,231.7 L276.4,228.2 L283.95,225.3 L291.5,224.2 L299.05,223.2 L306.6,220.3 L314.15,217.5 L321.7,215 L329.25,214" fill="none" stroke="#4464f3" stroke-width="1.0" stroke-dasharray="3,2"/>
<rect x="213.4" y="289.7" width="5.2" height="5.2" fill="#4464f3"/>
<rect x="220.95" y="278.8" width="5.2" height="5.2" fill="#4464f3"/>
<rect x="228.5" y="265.5" width="5.2" height="5.2" fill="#4464f3"/>
<rect x="236.05" y="256.2" width="5.2" height="5.2" fill="#4464f3"/>
<rect x="243.6" y="243.3" width="5.2" height="5.2" fill="#4464f3"/>
<rect x="251.15" y="240.5" width="5.2" height="5.2" fill="#4464f3"/>
<rect x="258.7" y="232.7" width="5.2" height="5.2" fill="#4464f3"/>
<rect x="266.25" y="229.1" width="5.2" height="5.2" fill="#4464f3"/>
<rect x="273.8" y="225.6" width="5.2" height="5.2" fill="#4464f3"/>
<rect x="281.35" y="222.7" width="5.2" height="5.2" fill="#4464f3"/>
<rect x="288.9" y="221.6" width="5.2" height="5.2" fill="#4464f3"/>
<rect x="296.45" y="220.6" width="5.2" height="5.2" fill="#4464f3"/>
<rect x="304" y="217.7" width="5.2" height="5.2" fill="#4464f3"/>
<rect x="311.55" y="214.9" width="5.2" height="5.2" fill="#4464f3"/>
<rect x="319.1" y="212.4" width="5.2" height="5.2" fill="#4464f3"/>
<rect x="326.65" y="211.4" width="5.2" height="5.2" fill="#4464f3"/>
<path d="M216,269 L223.55,255.5 L231.1,242.8 L238.65,232.1 L246.2,217.8 L253.75,206.8 L261.3,201.9 L268.85,199.3 L276.4,197.5 L283.95,193.2 L291.5,192.1 L299.05,191.7 L306.6,189.1 L314.15,187.8 L321.7,186.8 L329.25,186.4" fill="none" stroke="#1f9e55" stroke-width="1.0" stroke-dasharray="3,2"/>
<circle cx="216" cy="269" r="2.55" fill="#1f9e55"/>
<circle cx="223.55" cy="255.5" r="2.55" fill="#1f9e55"/>
<circle cx="231.1" cy="242.8" r="2.55" fill="#1f9e55"/>
<circle cx="238.65" cy="232.1" r="2.55" fill="#1f9e55"/>
<circle cx="246.2" cy="217.8" r="2.55" fill="#1f9e55"/>
<circle cx="253.75" cy="206.8" r="2.55" fill="#1f9e55"/>
<circle cx="261.3" cy="201.9" r="2.55" fill="#1f9e55"/>
<circle cx="268.85" cy="199.3" r="2.55" fill="#1f9e55"/>
<circle cx="276.4" cy="197.5" r="2.55" fill="#1f9e55"/>
<circle cx="283.95" cy="193.2" r="2.55" fill="#1f9e55"/>
<circle cx="291.5" cy="192.1" r="2.55" fill="#1f9e55"/>
<circle cx="299.05" cy="191.7" r="2.55" fill="#1f9e55"/>
<circle cx="306.6" cy="189.1" r="2.55" fill="#1f9e55"/>
<circle cx="314.15" cy="187.8" r="2.55" fill="#1f9e55"/>
<circle cx="321.7" cy="186.8" r="2.55" fill="#1f9e55"/>
<circle cx="329.25" cy="186.4" r="2.55" fill="#1f9e55"/>
<line x1="396.6" y1="303.1" x2="396.6" y2="300.1" stroke="#3c3c3c" stroke-width="0.9" />
<line x1="396.6" y1="179.5" x2="396.6" y2="182.5" stroke="#3c3c3c" stroke-width="0.9" />
<text x="396.6" y="312.6" font-size="8.7" fill="#1e1e1e" stroke="#1e1e1e" stroke-width="0.3" text-anchor="middle" font-weight="normal" >0</text>
<line x1="404.1" y1="303.1" x2="404.1" y2="301.3" stroke="#3c3c3c" stroke-width="0.9" />
<line x1="404.1" y1="179.5" x2="404.1" y2="181.3" stroke="#3c3c3c" stroke-width="0.9" />
<line x1="411.6" y1="303.1" x2="411.6" y2="300.1" stroke="#3c3c3c" stroke-width="0.9" />
<line x1="411.6" y1="179.5" x2="411.6" y2="182.5" stroke="#3c3c3c" stroke-width="0.9" />
<text x="411.6" y="312.6" font-size="8.7" fill="#1e1e1e" stroke="#1e1e1e" stroke-width="0.3" text-anchor="middle" font-weight="normal" >2</text>
<line x1="419.1" y1="303.1" x2="419.1" y2="301.3" stroke="#3c3c3c" stroke-width="0.9" />
<line x1="419.1" y1="179.5" x2="419.1" y2="181.3" stroke="#3c3c3c" stroke-width="0.9" />
<line x1="426.6" y1="303.1" x2="426.6" y2="300.1" stroke="#3c3c3c" stroke-width="0.9" />
<line x1="426.6" y1="179.5" x2="426.6" y2="182.5" stroke="#3c3c3c" stroke-width="0.9" />
<text x="426.6" y="312.6" font-size="8.7" fill="#1e1e1e" stroke="#1e1e1e" stroke-width="0.3" text-anchor="middle" font-weight="normal" >4</text>
<line x1="434.1" y1="303.1" x2="434.1" y2="301.3" stroke="#3c3c3c" stroke-width="0.9" />
<line x1="434.1" y1="179.5" x2="434.1" y2="181.3" stroke="#3c3c3c" stroke-width="0.9" />
<line x1="441.6" y1="303.1" x2="441.6" y2="300.1" stroke="#3c3c3c" stroke-width="0.9" />
<line x1="441.6" y1="179.5" x2="441.6" y2="182.5" stroke="#3c3c3c" stroke-width="0.9" />
<text x="441.6" y="312.6" font-size="8.7" fill="#1e1e1e" stroke="#1e1e1e" stroke-width="0.3" text-anchor="middle" font-weight="normal" >6</text>
<line x1="449.1" y1="303.1" x2="449.1" y2="301.3" stroke="#3c3c3c" stroke-width="0.9" />
<line x1="449.1" y1="179.5" x2="449.1" y2="181.3" stroke="#3c3c3c" stroke-width="0.9" />
<line x1="456.6" y1="303.1" x2="456.6" y2="300.1" stroke="#3c3c3c" stroke-width="0.9" />
<line x1="456.6" y1="179.5" x2="456.6" y2="182.5" stroke="#3c3c3c" stroke-width="0.9" />
<text x="456.6" y="312.6" font-size="8.7" fill="#1e1e1e" stroke="#1e1e1e" stroke-width="0.3" text-anchor="middle" font-weight="normal" >8</text>
<line x1="464.1" y1="303.1" x2="464.1" y2="301.3" stroke="#3c3c3c" stroke-width="0.9" />
<line x1="464.1" y1="179.5" x2="464.1" y2="181.3" stroke="#3c3c3c" stroke-width="0.9" />
<line x1="471.6" y1="303.1" x2="471.6" y2="300.1" stroke="#3c3c3c" stroke-width="0.9" />
<line x1="471.6" y1="179.5" x2="471.6" y2="182.5" stroke="#3c3c3c" stroke-width="0.9" />
<text x="471.6" y="312.6" font-size="8.7" fill="#1e1e1e" stroke="#1e1e1e" stroke-width="0.3" text-anchor="middle" font-weight="normal" >10</text>
<line x1="479.1" y1="303.1" x2="479.1" y2="301.3" stroke="#3c3c3c" stroke-width="0.9" />
<line x1="479.1" y1="179.5" x2="479.1" y2="181.3" stroke="#3c3c3c" stroke-width="0.9" />
<line x1="486.6" y1="303.1" x2="486.6" y2="300.1" stroke="#3c3c3c" stroke-width="0.9" />
<line x1="486.6" y1="179.5" x2="486.6" y2="182.5" stroke="#3c3c3c" stroke-width="0.9" />
<text x="486.6" y="312.6" font-size="8.7" fill="#1e1e1e" stroke="#1e1e1e" stroke-width="0.3" text-anchor="middle" font-weight="normal" >12</text>
<line x1="494.1" y1="303.1" x2="494.1" y2="301.3" stroke="#3c3c3c" stroke-width="0.9" />
<line x1="494.1" y1="179.5" x2="494.1" y2="181.3" stroke="#3c3c3c" stroke-width="0.9" />
<line x1="501.6" y1="303.1" x2="501.6" y2="300.1" stroke="#3c3c3c" stroke-width="0.9" />
<line x1="501.6" y1="179.5" x2="501.6" y2="182.5" stroke="#3c3c3c" stroke-width="0.9" />
<text x="501.6" y="312.6" font-size="8.7" fill="#1e1e1e" stroke="#1e1e1e" stroke-width="0.3" text-anchor="middle" font-weight="normal" >14</text>
<line x1="509.1" y1="303.1" x2="509.1" y2="301.3" stroke="#3c3c3c" stroke-width="0.9" />
<line x1="509.1" y1="179.5" x2="509.1" y2="181.3" stroke="#3c3c3c" stroke-width="0.9" />
<line x1="393.3" y1="179.5" x2="512.3" y2="179.5" stroke="#3c3c3c" stroke-width="1" />
<line x1="393.3" y1="303.1" x2="512.3" y2="303.1" stroke="#3c3c3c" stroke-width="1" />
<line x1="393.3" y1="179" x2="393.3" y2="303.6" stroke="#f27a7a" stroke-width="1" />
<line x1="393.3" y1="302.39" x2="396.3" y2="302.39" stroke="#f27a7a" stroke-width="0.9" />
<line x1="393.3" y1="261.36" x2="396.3" y2="261.36" stroke="#f27a7a" stroke-width="0.9" />
<line x1="393.3" y1="220.33" x2="396.3" y2="220.33" stroke="#f27a7a" stroke-width="0.9" />
<line x1="393.3" y1="179.3" x2="396.3" y2="179.3" stroke="#f27a7a" stroke-width="0.9" />
<line x1="393.3" y1="281.88" x2="395.1" y2="281.88" stroke="#f27a7a" stroke-width="0.9" />
<line x1="393.3" y1="240.85" x2="395.1" y2="240.85" stroke="#f27a7a" stroke-width="0.9" />
<line x1="393.3" y1="199.81" x2="395.1" y2="199.81" stroke="#f27a7a" stroke-width="0.9" />
<text x="390.7" y="305.09" font-size="8.7" fill="#f23c3c" stroke="#f23c3c" stroke-width="0.3" text-anchor="end" font-weight="normal" stroke-opacity="0.5">0.10</text>
<text x="390.7" y="264.06" font-size="8.7" fill="#f23c3c" stroke="#f23c3c" stroke-width="0.3" text-anchor="end" font-weight="normal" stroke-opacity="0.5">0.15</text>
<text x="390.7" y="223.03" font-size="8.7" fill="#f23c3c" stroke="#f23c3c" stroke-width="0.3" text-anchor="end" font-weight="normal" stroke-opacity="0.5">0.20</text>
<text x="390.7" y="182" font-size="8.7" fill="#f23c3c" stroke="#f23c3c" stroke-width="0.3" text-anchor="end" font-weight="normal" stroke-opacity="0.5">0.25</text>
<line x1="512.3" y1="179" x2="512.3" y2="303.6" stroke="#5cba86" stroke-width="1" />
<line x1="512.3" y1="302.8" x2="509.3" y2="302.8" stroke="#5cba86" stroke-width="0.9" />
<line x1="512.3" y1="272" x2="509.3" y2="272" stroke="#5cba86" stroke-width="0.9" />
<line x1="512.3" y1="241.2" x2="509.3" y2="241.2" stroke="#5cba86" stroke-width="0.9" />
<line x1="512.3" y1="210.4" x2="509.3" y2="210.4" stroke="#5cba86" stroke-width="0.9" />
<line x1="512.3" y1="179.6" x2="509.3" y2="179.6" stroke="#5cba86" stroke-width="0.9" />
<line x1="512.3" y1="287.4" x2="510.5" y2="287.4" stroke="#5cba86" stroke-width="0.9" />
<line x1="512.3" y1="256.6" x2="510.5" y2="256.6" stroke="#5cba86" stroke-width="0.9" />
<line x1="512.3" y1="225.8" x2="510.5" y2="225.8" stroke="#5cba86" stroke-width="0.9" />
<line x1="512.3" y1="195" x2="510.5" y2="195" stroke="#5cba86" stroke-width="0.9" />
<text x="514.9" y="305.6" font-size="8.7" fill="#2caa6a" stroke="#2caa6a" stroke-width="0.3" text-anchor="start" font-weight="normal" stroke-opacity="0.5">0.40</text>
<text x="514.9" y="274.8" font-size="8.7" fill="#2caa6a" stroke="#2caa6a" stroke-width="0.3" text-anchor="start" font-weight="normal" stroke-opacity="0.5">0.45</text>
<text x="514.9" y="244" font-size="8.7" fill="#2caa6a" stroke="#2caa6a" stroke-width="0.3" text-anchor="start" font-weight="normal" stroke-opacity="0.5">0.50</text>
<text x="514.9" y="213.2" font-size="8.7" fill="#2caa6a" stroke="#2caa6a" stroke-width="0.3" text-anchor="start" font-weight="normal" stroke-opacity="0.5">0.55</text>
<text x="514.9" y="182.4" font-size="8.7" fill="#2caa6a" stroke="#2caa6a" stroke-width="0.3" text-anchor="start" font-weight="normal" stroke-opacity="0.5">0.60</text>
<text x="453.5" y="323.6" font-size="9.9" fill="#1e1e1e" stroke="#1e1e1e" stroke-width="0.3" text-anchor="middle" font-weight="normal" >Time (days)</text>
<text x="396" y="190.5" font-size="8.8" fill="#1e1e1e" stroke="#1e1e1e" stroke-width="0.3" text-anchor="start" font-weight="bold" >(f)</text>
<path d="M396.6,219.7 L404.1,221.9 L411.6,226.4 L419.1,231.4 L426.6,234.3 L434.1,241 L441.6,243.2 L449.1,247.4 L456.6,251.1 L464.1,253.1 L471.6,259.9 L479.1,265 L486.6,268.9 L494.1,271.6 L501.6,277.1 L509.1,278.9" fill="none" stroke="#f02b2b" stroke-width="1.0" stroke-dasharray="3,2"/>
<rect x="394" y="217.1" width="5.2" height="5.2" fill="#f02b2b"/>
<rect x="401.5" y="219.3" width="5.2" height="5.2" fill="#f02b2b"/>
<rect x="409" y="223.8" width="5.2" height="5.2" fill="#f02b2b"/>
<rect x="416.5" y="228.8" width="5.2" height="5.2" fill="#f02b2b"/>
<rect x="424" y="231.7" width="5.2" height="5.2" fill="#f02b2b"/>
<rect x="431.5" y="238.4" width="5.2" height="5.2" fill="#f02b2b"/>
<rect x="439" y="240.6" width="5.2" height="5.2" fill="#f02b2b"/>
<rect x="446.5" y="244.8" width="5.2" height="5.2" fill="#f02b2b"/>
<rect x="454" y="248.5" width="5.2" height="5.2" fill="#f02b2b"/>
<rect x="461.5" y="250.5" width="5.2" height="5.2" fill="#f02b2b"/>
<rect x="469" y="257.3" width="5.2" height="5.2" fill="#f02b2b"/>
<rect x="476.5" y="262.4" width="5.2" height="5.2" fill="#f02b2b"/>
<rect x="484" y="266.3" width="5.2" height="5.2" fill="#f02b2b"/>
<rect x="491.5" y="269" width="5.2" height="5.2" fill="#f02b2b"/>
<rect x="499" y="274.5" width="5.2" height="5.2" fill="#f02b2b"/>
<rect x="506.5" y="276.3" width="5.2" height="5.2" fill="#f02b2b"/>
<path d="M396.6,213.2 L404.1,214 L411.6,214.6 L419.1,218.8 L426.6,221.9 L434.1,223.2 L441.6,224.6 L449.1,229 L456.6,230.2 L464.1,232.1 L471.6,234.3 L479.1,237.3 L486.6,239.2 L494.1,240.6 L501.6,243.6 L509.1,246.2" fill="none" stroke="#1f9e55" stroke-width="1.0" stroke-dasharray="3,2"/>
<circle cx="396.6" cy="213.2" r="2.55" fill="#1f9e55"/>
<circle cx="404.1" cy="214" r="2.55" fill="#1f9e55"/>
<circle cx="411.6" cy="214.6" r="2.55" fill="#1f9e55"/>
<circle cx="419.1" cy="218.8" r="2.55" fill="#1f9e55"/>
<circle cx="426.6" cy="221.9" r="2.55" fill="#1f9e55"/>
<circle cx="434.1" cy="223.2" r="2.55" fill="#1f9e55"/>
<circle cx="441.6" cy="224.6" r="2.55" fill="#1f9e55"/>
<circle cx="449.1" cy="229" r="2.55" fill="#1f9e55"/>
<circle cx="456.6" cy="230.2" r="2.55" fill="#1f9e55"/>
<circle cx="464.1" cy="232.1" r="2.55" fill="#1f9e55"/>
<circle cx="471.6" cy="234.3" r="2.55" fill="#1f9e55"/>
<circle cx="479.1" cy="237.3" r="2.55" fill="#1f9e55"/>
<circle cx="486.6" cy="239.2" r="2.55" fill="#1f9e55"/>
<circle cx="494.1" cy="240.6" r="2.55" fill="#1f9e55"/>
<circle cx="501.6" cy="243.6" r="2.55" fill="#1f9e55"/>
<circle cx="509.1" cy="246.2" r="2.55" fill="#1f9e55"/>
<text x="13.5" y="242.9" font-size="9.6" fill="#4f6ff2" stroke="#4f6ff2" stroke-width="0.2" text-anchor="middle" transform="rotate(-90 13.5 242.9)">NDVI</text>
<text x="16.45" y="229.5" font-size="6" fill="#4f6ff2" text-anchor="middle" transform="rotate(-90 16.45 229.5)">b</text>
<text x="175.4" y="243.3" font-size="9.6" fill="#2caa6a" stroke="#2caa6a" stroke-width="0.2" text-anchor="middle" transform="rotate(90 175.4 243.3)">NDVI</text>
<text x="171.7" y="256.4" font-size="6" fill="#2caa6a" text-anchor="middle" transform="rotate(90 171.7 256.4)">g</text>
<text x="194.6" y="243.25" font-size="9.6" fill="#4f6ff2" stroke="#4f6ff2" stroke-width="0.2" text-anchor="middle" transform="rotate(-90 194.6 243.25)">NDVI</text>
<text x="198.75" y="230.6" font-size="6" fill="#4f6ff2" text-anchor="middle" transform="rotate(-90 198.75 230.6)">b</text>
<text x="352.7" y="239.05" font-size="9.6" fill="#2caa6a" stroke="#2caa6a" stroke-width="0.2" text-anchor="middle" transform="rotate(90 352.7 239.05)">NDVI</text>
<text x="349.6" y="252.2" font-size="6" fill="#2caa6a" text-anchor="middle" transform="rotate(90 349.6 252.2)">g</text>
<text x="372.6" y="239.4" font-size="9.6" fill="#f23c3c" stroke="#f23c3c" stroke-width="0.2" text-anchor="middle" transform="rotate(-90 372.6 239.4)">NDVI</text>
<text x="537.2" y="239.1" font-size="9.6" fill="#2caa6a" stroke="#2caa6a" stroke-width="0.2" text-anchor="middle" transform="rotate(90 537.2 239.1)">NDVI</text>
<text x="533.5" y="252.2" font-size="6" fill="#2caa6a" text-anchor="middle" transform="rotate(90 533.5 252.2)">g</text>
</svg>
</body></html>
